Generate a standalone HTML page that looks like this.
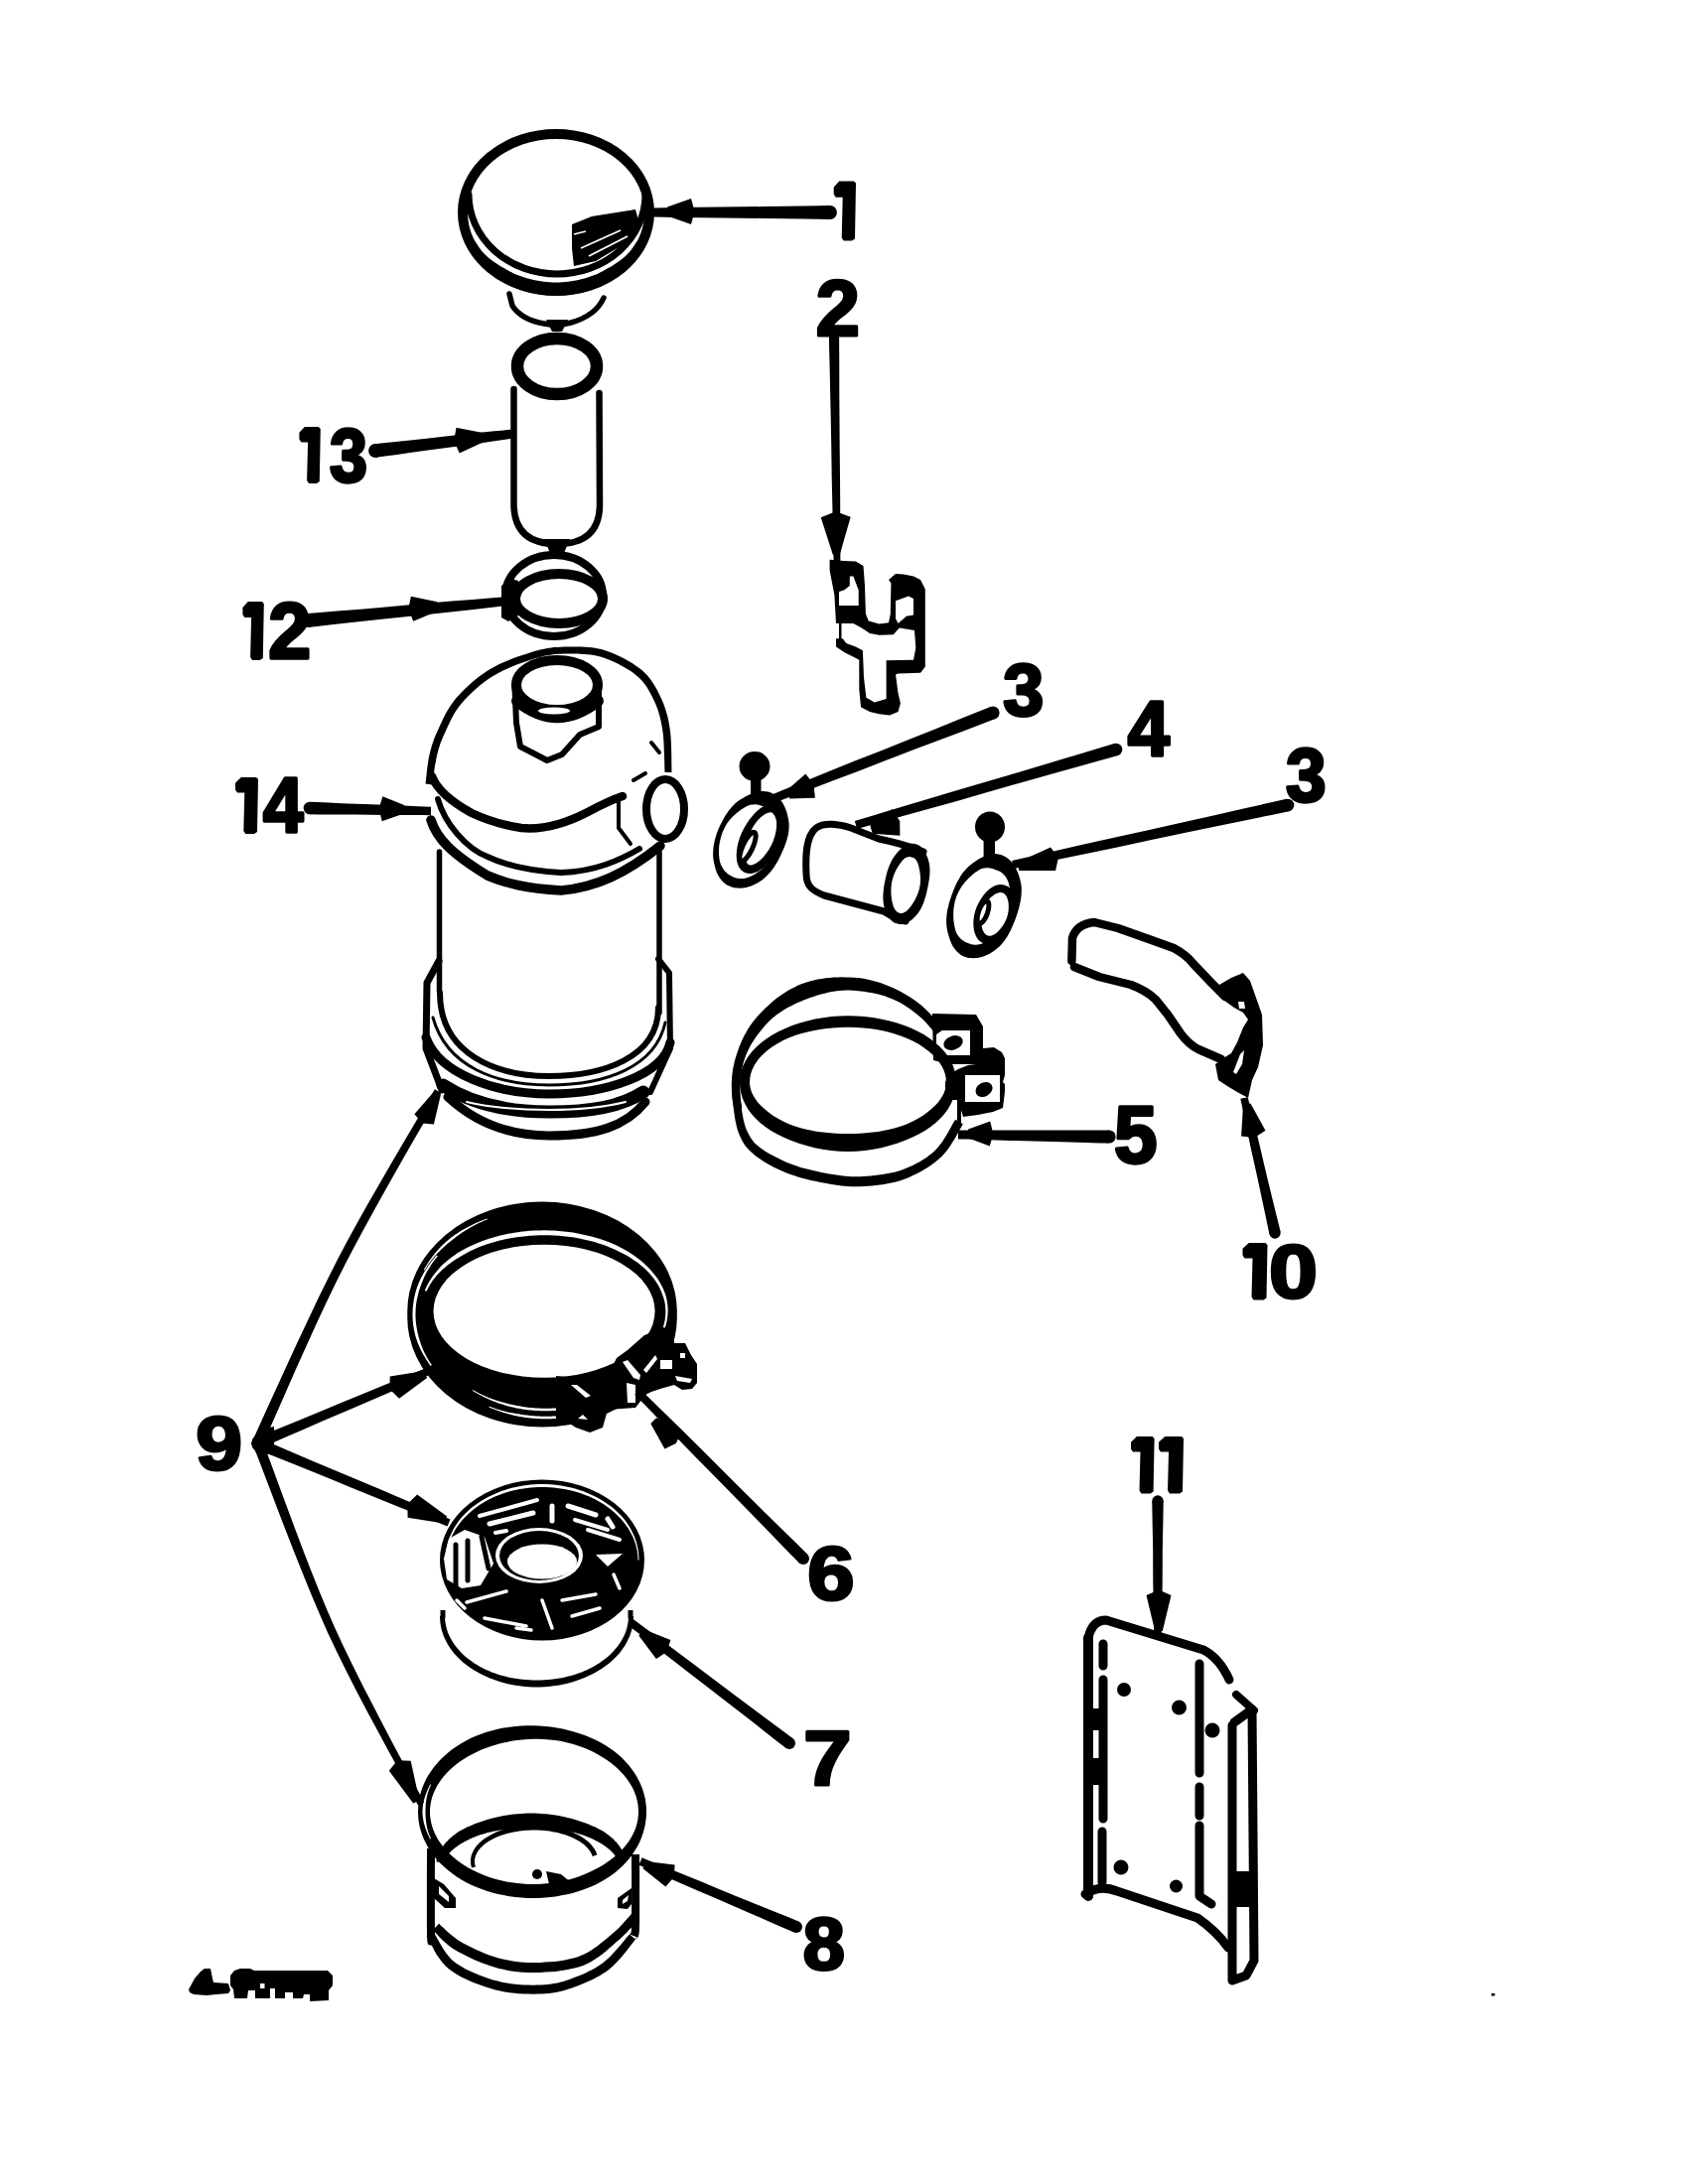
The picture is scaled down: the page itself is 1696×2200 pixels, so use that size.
<!DOCTYPE html>
<html><head><meta charset="utf-8"><style>
html,body{margin:0;padding:0;background:#fff;}
svg{display:block;}
text{font-family:"Liberation Sans",sans-serif;font-weight:bold;fill:#000;}
.s{fill:none;stroke:#000;stroke-linecap:round;stroke-linejoin:round;}
.f{fill:#000;stroke:none;}
.w{fill:#fff;stroke:none;}
.ws{fill:none;stroke:#fff;stroke-linecap:round;stroke-linejoin:round;}
</style></head><body>
<svg width="1696" height="2200" viewBox="0 0 1696 2200">
<rect width="1696" height="2200" fill="#fff"/>
<!-- ===== Cap 1 ===== -->
<g class="s">
<ellipse cx="560" cy="214" rx="94" ry="79" stroke-width="10"/>
<path d="M472,196 A89,80 0 0 0 650,196" stroke-width="7"/>

<path d="M513,296 L516,308 Q525,322 548,326 L561,328 L575,325 Q600,318 608,300" stroke-width="5.5"/>
</g>
<path class="f" d="M576,226 L596,218 L640,211 L643,222 L630,245 L600,263 L578,268 L576,250 Z"/>
<g fill="none" stroke="#fff" stroke-width="1.8"><path d="M585,250 L625,232"/><path d="M593,258 L632,238"/><path d="M578,236 L590,233"/></g>
<!-- arrow 1 -->

<!-- arrow 2 -->

<!-- Part 2 -->
<path class="f" fill-rule="evenodd" d="M835.6,574.4 L835.6,563.8 L850,565 L861.8,565.5 L869.5,570 L871,590 L871.9,618.4 L874.8,625.5 L885.5,628.5 L895,627.3 L896.8,618.4 L897.4,587.5 L895,584 L902,578 L909.9,578.6 L920,580.4 L927,584 L931.8,593.4 L931.8,671.8 L927,677.8 L904.5,678.4 L902,679.5 L904.5,698 L906.9,708.6 L904.5,717 L896,720.5 L885.5,719.3 L876,717 L867,712.2 L865.3,694.4 L865.3,664.7 L860.6,662.3 L851,657.6 L842,651.6 L842,643.3 L845,643.3 L845,628 L842,628 L840.4,599.4 Z
M845,596 L850,594.6 L855.8,590 L855.8,580.4 L859.4,580.4 L864.7,594.6 L864.7,610 L845,610 Z
M902,605.3 L915,600.6 L920,603 L920,619.6 L912.8,620.8 L904.5,627.9 L902,623 Z
M847.5,627.9 L859.4,627.9 L867.7,632.6 L876,638 L885.5,639.8 L899.8,639.2 L905.7,632.6 L921,635 L922.3,652.8 L920,664.7 L892.6,665.3 L892.6,703.9 L880.8,707.5 L872.4,702.7 L870,682.5 L868.9,655.2 L861.8,651.6 L852.3,648 L848.7,643.3 L847.5,643.3 Z"/>
<!-- ===== Tube 13 ===== -->
<path class="f" d="M550,322 L572,322 L566,334 L556,334 Z"/>
<path class="f" d="M548,543 L574,543 L568,557 L554,557 Z"/>
<g class="s">
<ellipse cx="561" cy="369" rx="40" ry="28" stroke-width="12.5"/>
<path d="M517.5,392 L517.5,510 Q519,548 561,548 Q603,548 604,510 L603.5,396" stroke-width="6.5"/>

</g>

<!-- ===== Ring 12 ===== -->
<g class="s">
<ellipse cx="558" cy="600" rx="49" ry="41" stroke-width="8"/>
<ellipse cx="563" cy="603" rx="44" ry="25" stroke-width="10"/>


</g>

<path class="f" d="M505,590 L515,583 L522,585 L522,620 L512,626 L505,622 Z"/>
<!-- ===== Body 14 ===== -->
<g class="s">

<!-- inlet neck -->
<ellipse cx="561" cy="690" rx="41" ry="25" stroke-width="10"/>
<path d="M521,706 Q561,738 602,706" stroke-width="12"/>
<ellipse cx="558" cy="716" rx="16" ry="3.5" fill="#fff" stroke="none"/>
<path d="M656,748 L664,758 M638,786 L650,779" stroke-width="4"/>
<path d="M518.5,692 L520,728 L524,752 L551,766 L566,760 L584,740 L603,732 L603,692" stroke-width="6"/>
<!-- band -->
<path d="M435,782 C440,795 455,808 475,819 C490,826 505,831 525,834 C545,836 565,832 592,818 C605,811 615,806 627,802" stroke-width="8.5"/>
<path d="M441,805 C448,830 470,855 491,863 C510,872 533,877 565,879 C600,878 625,866 644,855" stroke-width="6"/>
<path d="M434,826 C440,845 455,860 491,882 C510,890 530,895 565,897 C600,894 630,880 665,852" stroke-width="9.5"/>
<!-- port -->
<ellipse cx="670" cy="815" rx="19" ry="30" stroke-width="8"/>
<path d="M623,802 L623,834 L635,850" stroke-width="4"/>
<!-- body sides -->
<line x1="442.5" y1="858" x2="442.5" y2="998" stroke-width="5.5"/>
<line x1="664" y1="858" x2="664" y2="1020" stroke-width="5.5"/>
<path d="M442,968 L430,990 L429,1056 L445,1098" stroke-width="7"/>
<path d="M663,966 L674,980 L675,1056 L655,1100" stroke-width="6"/>
<!-- bottom arcs -->
<path d="M443,1000 C443,1062 500,1084 553,1084 C606,1084 663,1066 663,1015" stroke-width="6"/>
<path d="M436,1025 C450,1075 500,1093 553,1093 C610,1093 660,1075 670,1030" stroke-width="3"/>
<path d="M429,1045 C442,1082 500,1102 553,1102 C610,1102 668,1083 675,1050" stroke-width="9"/>
<path d="M446,1093 C475,1112 510,1120 553,1120 C595,1120 625,1115 648,1100" stroke-width="13"/>
<path d="M470,1110 C500,1117 530,1118 553,1118 C580,1118 610,1115 630,1110" stroke="#fff" stroke-width="2"/>
<path d="M451,1105 C480,1132 515,1144 553,1144 C600,1144 630,1135 650,1110" stroke-width="9"/>

</g>

<!-- ===== Elbow 10 ===== -->
<g class="s">
<path d="M1079.4,968 L1080,945 Q1084,931 1102,929 L1126,935 L1157,946 L1182,955 Q1195,962 1201,970 L1220,990 L1234,1004" stroke-width="8.5"/>
<path d="M1082,974 L1107,984 L1139,992 Q1155,998 1164,1007 L1176,1022 L1189,1041 Q1197,1052 1207,1057 L1230,1067" stroke-width="8.5"/>
</g>
<path class="f" d="M1228,992 L1240,985 L1252,980 L1259,988 L1265,1005 L1271,1022 L1272,1053 L1267,1075 L1261,1088 L1257,1106 L1246,1100 L1236,1094 L1227,1088 L1224,1072 L1232,1066 L1240,1061 L1246,1050 L1252,1035 L1257,1027 L1252,1020 L1243,1015 L1236,1010 L1228,1004 Z"/>
<path class="w" d="M1247,1009 L1253,1009 L1254,1016 L1248,1016 Z"/>
<path class="w" d="M1242,1080 L1249,1062 L1253,1058 L1251,1072 L1245,1082 Z"/>
<path class="f" fill-rule="evenodd" d="M939,1021 L983,1022 L990,1034 L990,1056 L1001,1055 L1009,1060 L1012,1066 L1012,1083 L1010,1090 L1012,1092 L1012,1100 L1010,1116 L1000,1120 L985,1123 L970,1125 L967,1115 L967,1108 L952,1108 L952,1090 L955,1083 L965,1077 L975,1073 L983,1072 L968,1072 L955,1072 L940,1068 Z
M943,1038 L977,1038 L977,1063 L943,1063 Z
M972,1083 L1007,1083 L1007,1110 L972,1110 Z"/>
<ellipse class="f" cx="960" cy="1050.5" rx="10" ry="7" transform="rotate(-20 960 1050.5)"/>
<ellipse class="f" cx="991" cy="1097.5" rx="9" ry="7" transform="rotate(-30 991 1097.5)"/>
<!-- ===== Bracket 11 ===== -->
<g class="s">

<path d="M1096,1650 Q1100,1632 1114,1632 L1212,1662 Q1228,1670 1238,1692" stroke-width="9"/>
<line x1="1245" y1="1707" x2="1263" y2="1723" stroke-width="8"/>
<line x1="1096" y1="1650" x2="1096" y2="1910" stroke-width="10"/>
<path d="M1093,1908 Q1108,1898 1125,1905 L1206,1932 Q1225,1945 1237,1962" stroke-width="9"/>
<path d="M1111,1656 L1111,1678 M1111,1692 L1111,1832 M1110,1845 L1110,1896" stroke-width="9"/>
<path d="M1208,1676 L1208,1786 M1208,1800 L1208,1829 M1208,1839 L1208,1910 L1220,1918" stroke-width="9"/>
<path d="M1241,1738 L1241,1995 L1255,1990 L1263,1975 L1261,1722 L1243,1735" stroke-width="9"/>
</g>

<rect class="f" x="1238" y="1885" width="22" height="36"/>
<rect class="f" x="1092" y="1721" width="21" height="22"/>
<rect class="f" x="1092" y="1771" width="21" height="27"/>
<circle class="f" cx="1132" cy="1702" r="7"/>
<circle class="f" cx="1187.5" cy="1720" r="7.5"/>
<circle class="f" cx="1221" cy="1743" r="7.5"/>
<circle class="f" cx="1129" cy="1881" r="7.5"/>
<circle class="f" cx="1184.5" cy="1900" r="6.5"/>
<!-- misc -->
<rect class="f" x="1502" y="2008" width="3.5" height="2.5"/>
<!-- A-90192 -->
<path class="f" d="M190,2004 L196,1993 L202,1986 L206,1983 L212,1983 L214,1993 L215,1997 L230,1998 L232,2005 L230,2008 L218,2009 L208,2010 L195,2009 L191,2007 Z"/>
<path class="f" d="M232,1990 L236,1985 L242,1983 L252,1983 L256,1985 L330,1985 L335,1990 L335,2000 L331,2005 L331,2015 L312,2016 L312,2009 L306,2009 L305,2013 L295,2013 L295,2007 L287,2007 L287,2013 L277,2013 L277,2003 L272,2003 L272,2013 L257,2013 L257,2005 L250,2005 L249,2013 L236,2013 L235,2004 L232,2000 Z"/>
<rect class="w" x="262" y="1998" width="4.5" height="5"/>

<path class="f" d="M650.1,223.7 L649.6,226.4 L648.8,229.1 L647.8,231.7 L646.7,234.2 L645.5,236.7 L644.1,239.1 L642.7,241.5 L641.2,243.8 L639.6,246.1 L638.0,248.4 L636.4,250.7 L634.7,252.9 L632.9,255.1 L630.9,257.1 L628.8,259.0 L626.6,260.8 L624.3,262.6 L621.9,264.2 L619.5,265.8 L617.0,267.4 L614.5,268.9 L612.0,270.3 L609.5,271.8 L607.0,273.3 L604.3,274.6 L601.6,275.9 L598.9,277.1 L596.0,278.1 L593.2,279.1 L590.3,280.0 L587.4,280.8 L584.4,281.6 L581.4,282.2 L578.4,282.8 L575.4,283.3 L572.3,283.8 L569.3,284.1 L566.2,284.3 L563.1,284.5 L560.0,284.5 L556.9,284.5 L553.8,284.3 L550.7,284.1 L547.7,283.8 L544.6,283.3 L541.6,282.8 L538.6,282.2 L535.6,281.6 L532.6,280.8 L529.7,280.0 L526.8,279.1 L524.0,278.1 L521.1,277.1 L518.4,275.9 L515.7,274.6 L513.0,273.3 L510.5,271.8 L508.0,270.3 L505.5,268.9 L503.0,267.4 L500.5,265.8 L498.1,264.2 L495.7,262.6 L493.4,260.8 L491.2,259.0 L489.1,257.1 L487.1,255.1 L485.3,252.9 L483.6,250.7 L482.0,248.4 L480.4,246.1 L478.8,243.8 L477.3,241.5 L475.9,239.1 L474.5,236.7 L473.3,234.2 L472.2,231.7 L471.2,229.1 L470.4,226.4 L469.9,223.7 L467.9,224.0 L468.4,226.8 L468.9,229.6 L469.4,232.5 L470.0,235.3 L470.7,238.2 L471.6,241.0 L472.5,243.8 L473.6,246.6 L474.9,249.4 L476.3,252.0 L477.9,254.6 L479.7,257.1 L481.5,259.6 L483.4,262.1 L485.3,264.6 L487.3,267.1 L489.4,269.5 L491.6,271.9 L493.9,274.2 L496.3,276.4 L498.9,278.5 L501.6,280.4 L504.4,282.2 L507.3,283.8 L510.2,285.4 L513.3,286.9 L516.3,288.4 L519.5,289.7 L522.6,291.0 L525.9,292.1 L529.1,293.1 L532.5,294.1 L535.8,294.9 L539.2,295.6 L542.6,296.2 L546.1,296.7 L549.6,297.0 L553.0,297.3 L556.5,297.4 L560.0,297.5 L563.5,297.4 L567.0,297.3 L570.4,297.0 L573.9,296.7 L577.4,296.2 L580.8,295.6 L584.2,294.9 L587.5,294.1 L590.9,293.1 L594.1,292.1 L597.4,291.0 L600.5,289.7 L603.7,288.4 L606.7,286.9 L609.8,285.4 L612.7,283.8 L615.6,282.2 L618.4,280.4 L621.1,278.5 L623.7,276.4 L626.1,274.2 L628.4,271.9 L630.6,269.5 L632.7,267.1 L634.7,264.6 L636.6,262.1 L638.5,259.6 L640.3,257.1 L642.1,254.6 L643.7,252.0 L645.1,249.4 L646.4,246.6 L647.5,243.8 L648.4,241.0 L649.3,238.2 L650.0,235.3 L650.6,232.5 L651.1,229.6 L651.6,226.8 L652.1,224.0 Z"/>
<path class="f" d="M435.5,790.5 L435.7,788.7 L436.0,786.5 L436.3,783.9 L436.7,781.0 L437.1,778.0 L437.5,774.7 L438.0,771.5 L438.6,768.4 L439.1,765.5 L439.7,762.8 L440.2,760.4 L440.8,758.0 L441.4,755.7 L442.0,753.6 L442.7,751.4 L443.4,749.2 L444.2,747.0 L445.2,744.7 L446.2,742.2 L447.4,739.6 L448.7,736.7 L450.1,733.6 L451.6,730.5 L453.1,727.3 L454.7,724.0 L456.4,720.8 L458.3,717.6 L460.3,714.4 L462.5,711.4 L464.9,708.4 L467.5,705.4 L470.3,702.4 L473.3,699.4 L476.5,696.4 L479.8,693.5 L483.2,690.6 L486.8,687.8 L490.4,685.1 L494.1,682.6 L497.9,680.2 L501.9,678.0 L506.1,675.8 L510.5,673.7 L515.1,671.7 L519.8,669.8 L524.5,668.0 L529.1,666.4 L533.6,664.9 L537.9,663.5 L541.9,662.4 L545.7,661.4 L549.2,660.6 L552.6,660.0 L555.9,659.5 L559.0,659.1 L562.2,658.8 L565.3,658.7 L568.5,658.6 L571.7,658.5 L575.0,658.5 L578.4,658.5 L581.7,658.6 L585.0,658.7 L588.3,658.9 L591.6,659.2 L594.9,659.6 L598.1,660.1 L601.3,660.7 L604.6,661.6 L607.8,662.6 L611.2,663.8 L614.8,665.2 L618.4,666.8 L622.1,668.5 L625.7,670.4 L629.3,672.4 L632.7,674.5 L636.0,676.6 L638.9,678.7 L641.6,680.9 L643.9,683.0 L646.1,685.2 L648.0,687.5 L649.8,689.8 L651.5,692.3 L653.0,694.8 L654.5,697.4 L655.9,700.1 L657.3,702.8 L658.6,705.6 L659.9,708.3 L661.0,711.1 L662.1,713.8 L663.0,716.6 L663.9,719.5 L664.7,722.4 L665.4,725.5 L666.1,728.7 L666.7,732.0 L667.3,735.5 L667.8,739.4 L668.2,743.8 L668.5,748.6 L668.7,753.5 L668.9,758.5 L669.1,763.4 L669.2,767.9 L669.3,772.0 L669.4,775.5 L669.5,778.1 L676.5,777.9 L676.4,775.3 L676.4,771.9 L676.3,767.8 L676.3,763.2 L676.2,758.3 L676.1,753.3 L675.9,748.2 L675.6,743.2 L675.2,738.6 L674.7,734.5 L674.1,730.8 L673.5,727.2 L672.8,723.8 L672.0,720.6 L671.1,717.4 L670.1,714.3 L669.1,711.3 L668.0,708.3 L666.7,705.3 L665.4,702.4 L664.0,699.5 L662.6,696.7 L661.1,693.8 L659.5,691.0 L657.8,688.2 L655.9,685.5 L653.9,682.8 L651.6,680.1 L649.1,677.6 L646.4,675.1 L643.4,672.8 L640.2,670.4 L636.7,668.1 L633.1,665.9 L629.3,663.8 L625.4,661.8 L621.5,660.0 L617.7,658.3 L613.9,656.8 L610.2,655.4 L606.6,654.3 L602.9,653.5 L599.4,652.8 L595.8,652.3 L592.3,652.0 L588.8,651.7 L585.3,651.6 L581.9,651.5 L578.4,651.5 L575.0,651.5 L571.6,651.5 L568.3,651.6 L565.0,651.7 L561.7,651.9 L558.3,652.1 L554.9,652.5 L551.4,653.1 L547.8,653.7 L544.0,654.6 L540.1,655.6 L535.9,656.8 L531.5,658.2 L526.8,659.7 L522.0,661.3 L517.2,663.1 L512.3,665.0 L507.5,667.0 L502.8,669.1 L498.3,671.4 L494.1,673.8 L490.0,676.3 L486.1,679.0 L482.2,681.8 L478.5,684.8 L474.9,687.8 L471.4,690.9 L468.1,694.1 L464.9,697.2 L461.9,700.4 L459.1,703.6 L456.5,706.9 L454.1,710.2 L451.9,713.7 L449.9,717.1 L448.0,720.6 L446.3,724.0 L444.8,727.3 L443.3,730.5 L441.9,733.6 L440.6,736.4 L439.3,739.2 L438.2,741.8 L437.2,744.3 L436.4,746.7 L435.6,749.1 L434.8,751.4 L434.2,753.8 L433.5,756.1 L432.9,758.6 L432.3,761.2 L431.7,764.1 L431.2,767.2 L430.7,770.4 L430.3,773.8 L429.9,777.0 L429.6,780.2 L429.2,783.1 L429.0,785.7 L428.7,787.9 L428.5,789.5 Z"/>
<ellipse class="f" cx="760" cy="772" rx="15.5" ry="15"/><rect class="f" x="756" y="782" width="10.5" height="20"/>
<path class="f" d="M780.0,858.6 L778.9,860.6 L777.9,862.6 L776.7,864.5 L775.5,866.3 L774.2,868.0 L772.8,869.7 L771.4,871.3 L769.9,872.8 L768.4,874.3 L766.9,875.7 L765.4,876.9 L763.8,878.1 L762.3,879.2 L760.7,880.3 L759.1,881.2 L757.6,882.1 L756.0,882.8 L754.5,883.5 L752.9,884.0 L751.4,884.4 L749.9,884.7 L748.4,884.9 L747.0,885.0 L745.6,885.0 L744.2,884.9 L742.9,884.8 L741.6,884.5 L740.4,884.2 L739.2,883.7 L738.1,883.3 L737.0,882.7 L735.9,882.1 L734.8,881.5 L733.7,880.7 L732.6,879.9 L731.5,879.0 L730.5,878.0 L729.5,876.9 L728.6,875.6 L727.7,874.3 L726.9,872.8 L726.1,871.3 L725.5,869.6 L725.0,867.9 L724.6,866.1 L724.4,864.2 L724.2,862.3 L724.0,860.3 L724.0,858.3 L724.0,856.2 L724.1,854.1 L724.3,852.0 L724.6,849.9 L725.0,847.7 L725.5,845.6 L726.0,843.4 L726.7,841.3 L727.4,839.1 L728.3,837.0 L729.2,835.0 L730.2,832.9 L731.3,831.0 L732.5,829.1 L733.9,827.3 L735.2,825.5 L736.7,823.9 L738.2,822.3 L739.7,820.9 L741.3,819.5 L742.9,818.2 L744.5,816.9 L746.1,815.8 L747.7,814.7 L749.3,813.7 L750.9,812.8 L752.4,812.0 L754.0,811.3 L755.7,810.8 L757.3,810.5 L758.8,810.4 L760.3,810.3 L761.8,810.4 L763.1,810.6 L764.4,810.9 L765.6,811.3 L766.8,811.7 L767.8,812.1 L768.8,812.6 L769.7,813.0 L770.6,813.5 L771.6,813.9 L772.5,814.4 L773.4,814.9 L774.3,815.5 L775.2,816.2 L776.2,816.9 L777.1,817.8 L778.0,818.7 L778.8,819.8 L779.6,821.0 L780.4,822.3 L781.0,823.7 L781.6,825.2 L782.0,826.8 L782.4,828.4 L782.7,830.2 L782.9,831.9 L783.2,833.8 L783.4,835.7 L783.5,837.6 L783.6,839.7 L783.6,841.7 L783.5,843.8 L783.3,845.9 L783.0,848.1 L782.7,850.2 L782.2,852.3 L781.5,854.5 L780.8,856.6 L779.9,858.7 L786.3,861.5 L787.3,859.3 L788.3,857.1 L789.3,854.8 L790.2,852.5 L791.1,850.1 L791.9,847.8 L792.6,845.4 L793.2,843.1 L793.8,840.7 L794.2,838.3 L794.5,835.9 L794.6,833.5 L794.7,831.1 L794.5,828.7 L794.2,826.4 L793.8,824.2 L793.3,821.9 L792.8,819.7 L792.2,817.6 L791.4,815.5 L790.6,813.4 L789.6,811.4 L788.6,809.5 L787.4,807.6 L786.0,805.8 L784.6,804.2 L783.0,802.6 L781.2,801.2 L779.4,800.0 L777.4,799.0 L775.3,798.1 L773.2,797.6 L771.0,797.2 L768.8,797.1 L766.6,797.1 L764.4,797.4 L762.2,797.8 L760.1,798.4 L758.0,799.1 L756.0,799.9 L754.0,800.8 L752.1,801.8 L750.2,802.8 L748.2,803.9 L746.3,805.0 L744.4,806.2 L742.6,807.6 L740.8,809.1 L739.1,810.7 L737.4,812.4 L735.9,814.2 L734.4,816.0 L733.0,818.0 L731.6,820.0 L730.3,822.0 L729.1,824.1 L727.9,826.3 L726.8,828.4 L725.7,830.6 L724.6,832.8 L723.6,835.1 L722.7,837.3 L721.9,839.6 L721.1,841.9 L720.4,844.2 L719.8,846.6 L719.3,848.9 L718.8,851.2 L718.5,853.6 L718.3,855.9 L718.2,858.2 L718.1,860.5 L718.2,862.7 L718.4,864.9 L718.7,867.1 L719.1,869.2 L719.6,871.3 L720.1,873.3 L720.6,875.3 L721.3,877.3 L722.0,879.2 L722.9,881.0 L723.9,882.8 L724.9,884.5 L726.1,886.1 L727.4,887.6 L728.9,889.0 L730.4,890.3 L732.1,891.4 L733.9,892.3 L735.7,893.1 L737.6,893.7 L739.6,894.2 L741.6,894.5 L743.6,894.6 L745.6,894.7 L747.7,894.5 L749.7,894.3 L751.7,893.9 L753.8,893.3 L755.8,892.7 L757.8,891.9 L759.8,891.1 L761.8,890.1 L763.7,889.0 L765.6,887.8 L767.5,886.5 L769.3,885.0 L771.0,883.5 L772.7,881.8 L774.4,880.1 L775.9,878.3 L777.4,876.4 L778.9,874.4 L780.3,872.4 L781.6,870.3 L782.9,868.2 L784.1,866.0 L785.2,863.8 L786.2,861.6 Z"/>
<path class="f" d="M777.4,850.2 L776.5,852.0 L775.5,853.8 L774.6,855.5 L773.5,857.1 L772.5,858.6 L771.4,860.1 L770.2,861.6 L769.1,862.9 L767.9,864.2 L766.8,865.3 L765.6,866.4 L764.4,867.4 L763.3,868.3 L762.2,869.1 L761.2,869.7 L760.1,870.3 L759.1,870.8 L758.2,871.1 L757.4,871.3 L756.6,871.4 L755.9,871.4 L755.3,871.4 L754.8,871.3 L754.3,871.1 L753.9,870.9 L753.6,870.7 L753.2,870.4 L752.8,870.0 L752.5,869.6 L752.1,869.0 L751.7,868.4 L751.3,867.6 L751.0,866.7 L750.7,865.7 L750.4,864.6 L750.2,863.3 L750.1,862.0 L750.0,860.6 L750.0,859.1 L750.1,857.5 L750.3,855.9 L750.5,854.2 L750.9,852.5 L751.3,850.7 L751.7,848.9 L752.2,847.1 L752.8,845.3 L753.4,843.5 L754.1,841.6 L754.9,839.8 L755.7,838.0 L756.6,836.3 L757.5,834.6 L758.4,832.9 L759.4,831.3 L760.5,829.8 L761.6,828.3 L762.7,826.9 L763.8,825.6 L765.0,824.4 L766.2,823.3 L767.3,822.4 L768.5,821.5 L769.6,820.7 L770.7,820.1 L771.8,819.5 L772.8,819.1 L773.7,818.8 L774.6,818.5 L775.4,818.4 L776.1,818.3 L776.7,818.3 L777.3,818.4 L777.8,818.5 L778.3,818.7 L778.7,819.0 L779.1,819.3 L779.5,819.6 L779.9,820.1 L780.3,820.7 L780.7,821.4 L781.1,822.2 L781.4,823.2 L781.6,824.2 L781.9,825.4 L782.0,826.6 L782.1,828.0 L782.2,829.4 L782.1,830.9 L782.1,832.5 L781.9,834.2 L781.7,835.9 L781.4,837.6 L781.0,839.4 L780.6,841.2 L780.1,843.0 L779.5,844.8 L778.9,846.7 L778.1,848.5 L777.3,850.3 L783.7,853.2 L784.6,851.3 L785.4,849.3 L786.2,847.2 L786.9,845.2 L787.6,843.2 L788.2,841.2 L788.7,839.2 L789.2,837.2 L789.5,835.2 L789.8,833.3 L790.0,831.4 L790.1,829.5 L790.1,827.7 L790.0,825.9 L789.8,824.2 L789.5,822.5 L789.0,820.9 L788.5,819.4 L787.9,817.9 L787.2,816.6 L786.3,815.3 L785.3,814.1 L784.2,813.1 L783.0,812.2 L781.6,811.5 L780.2,810.9 L778.7,810.5 L777.2,810.4 L775.7,810.4 L774.2,810.5 L772.7,810.9 L771.2,811.3 L769.7,812.0 L768.2,812.7 L766.8,813.6 L765.4,814.6 L764.0,815.7 L762.6,816.8 L761.3,818.1 L759.9,819.5 L758.6,820.9 L757.3,822.4 L756.1,824.0 L754.8,825.6 L753.6,827.4 L752.4,829.1 L751.3,830.9 L750.2,832.8 L749.1,834.7 L748.1,836.7 L747.2,838.6 L746.3,840.6 L745.5,842.6 L744.7,844.7 L744.1,846.7 L743.5,848.7 L743.0,850.8 L742.6,852.8 L742.3,854.8 L742.0,856.7 L741.9,858.6 L741.7,860.5 L741.7,862.3 L741.8,864.1 L742.0,865.9 L742.2,867.6 L742.6,869.2 L743.1,870.8 L743.7,872.3 L744.4,873.7 L745.3,875.0 L746.3,876.2 L747.5,877.3 L748.8,878.2 L750.2,878.9 L751.7,879.4 L753.2,879.8 L754.8,879.9 L756.3,879.9 L757.9,879.7 L759.4,879.3 L760.9,878.8 L762.4,878.2 L763.9,877.4 L765.3,876.6 L766.8,875.6 L768.2,874.6 L769.6,873.4 L771.0,872.1 L772.3,870.8 L773.6,869.3 L774.9,867.8 L776.1,866.1 L777.3,864.5 L778.5,862.7 L779.6,860.9 L780.7,859.0 L781.7,857.1 L782.7,855.2 L783.7,853.3 Z"/>
<ellipse cx="753" cy="853" rx="5" ry="16" transform="rotate(25 753 853)" fill="#fff" stroke="#000" stroke-width="5"/>
<path class="s" d="M930,858 C915,852 900,848 885,845 L857,834 C845,830 830,828 822,834 C812,842 811,860 812,880 C812,893 818,897 830,902 L890,918 C898,923 905,927 912,928" stroke-width="7"/>
<path class="f" d="M926.2,893.8 L925.7,895.9 L925.1,897.9 L924.5,899.8 L923.7,901.7 L922.9,903.5 L922.1,905.3 L921.2,907.0 L920.3,908.6 L919.3,910.1 L918.3,911.5 L917.4,912.9 L916.4,914.1 L915.5,915.3 L914.5,916.3 L913.5,917.2 L912.6,917.9 L911.7,918.6 L910.8,919.1 L909.9,919.5 L909.2,919.7 L908.5,919.9 L907.9,920.0 L907.3,920.0 L906.8,919.9 L906.4,919.9 L905.9,919.7 L905.4,919.6 L904.9,919.4 L904.3,919.1 L903.7,918.7 L903.1,918.2 L902.4,917.5 L901.7,916.7 L901.1,915.8 L900.5,914.7 L899.9,913.5 L899.5,912.1 L899.0,910.6 L898.7,909.1 L898.3,907.4 L898.0,905.7 L897.8,903.9 L897.6,902.1 L897.4,900.2 L897.4,898.2 L897.4,896.2 L897.5,894.1 L897.7,892.1 L897.9,890.0 L898.3,888.0 L898.8,886.0 L899.4,884.0 L900.0,882.0 L900.8,880.1 L901.6,878.3 L902.4,876.5 L903.4,874.8 L904.3,873.2 L905.3,871.7 L906.2,870.2 L907.2,868.9 L908.2,867.6 L909.2,866.4 L910.2,865.4 L911.3,864.6 L912.3,864.0 L913.4,863.5 L914.4,863.2 L915.3,863.0 L916.1,863.0 L916.8,863.1 L917.3,863.2 L917.7,863.4 L918.0,863.5 L918.3,863.6 L918.6,863.7 L918.9,863.7 L919.3,863.8 L919.8,864.0 L920.3,864.2 L921.0,864.6 L921.6,865.2 L922.3,865.9 L922.9,866.7 L923.5,867.7 L924.1,868.9 L924.6,870.2 L925.0,871.6 L925.4,873.1 L925.7,874.7 L926.1,876.4 L926.4,878.1 L926.6,879.9 L926.8,881.8 L927.0,883.8 L927.0,885.8 L927.0,887.8 L926.8,889.8 L926.6,891.9 L926.2,894.0 L934.0,895.5 L934.5,893.3 L934.9,891.0 L935.3,888.7 L935.7,886.5 L936.0,884.2 L936.3,881.9 L936.4,879.7 L936.5,877.5 L936.4,875.3 L936.3,873.1 L936.0,871.0 L935.7,869.0 L935.1,867.0 L934.6,865.1 L933.9,863.3 L933.2,861.5 L932.4,859.7 L931.6,858.1 L930.5,856.5 L929.4,855.0 L928.1,853.6 L926.6,852.3 L924.9,851.3 L923.1,850.5 L921.2,849.9 L919.3,849.7 L917.3,849.7 L915.4,850.1 L913.6,850.7 L911.9,851.5 L910.3,852.5 L908.8,853.7 L907.4,854.9 L906.1,856.2 L904.8,857.6 L903.6,859.0 L902.3,860.5 L901.1,862.1 L899.9,863.7 L898.8,865.5 L897.8,867.3 L896.9,869.3 L896.0,871.3 L895.2,873.3 L894.4,875.5 L893.7,877.6 L893.1,879.8 L892.5,882.0 L892.0,884.3 L891.5,886.5 L891.0,888.8 L890.6,891.1 L890.2,893.3 L889.9,895.6 L889.7,897.9 L889.5,900.1 L889.4,902.3 L889.4,904.5 L889.5,906.6 L889.6,908.7 L889.9,910.8 L890.3,912.8 L890.8,914.7 L891.4,916.5 L892.0,918.3 L892.7,920.0 L893.5,921.7 L894.4,923.2 L895.4,924.7 L896.5,926.1 L897.8,927.3 L899.2,928.5 L900.7,929.4 L902.3,930.1 L904.1,930.6 L905.9,930.9 L907.7,930.9 L909.4,930.7 L911.2,930.3 L912.9,929.7 L914.5,929.0 L916.1,928.1 L917.6,927.0 L919.0,925.9 L920.4,924.6 L921.7,923.2 L923.0,921.8 L924.3,920.2 L925.5,918.6 L926.6,916.8 L927.6,914.9 L928.6,913.0 L929.5,910.9 L930.3,908.9 L931.0,906.7 L931.7,904.6 L932.4,902.3 L933.0,900.1 L933.5,897.8 L934.0,895.6 Z"/>
<ellipse class="f" cx="997" cy="833" rx="15" ry="15.5"/><rect class="f" x="990.6" y="844" width="11.4" height="22"/>
<path class="f" d="M1015.4,922.2 L1014.5,924.4 L1013.5,926.5 L1012.5,928.5 L1011.3,930.5 L1010.1,932.4 L1008.8,934.2 L1007.4,936.0 L1006.0,937.6 L1004.5,939.2 L1003.0,940.7 L1001.6,942.1 L1000.1,943.4 L998.6,944.6 L997.1,945.8 L995.7,946.9 L994.2,947.9 L992.7,948.8 L991.3,949.6 L989.8,950.2 L988.4,950.7 L987.0,951.1 L985.6,951.4 L984.3,951.6 L983.0,951.7 L981.8,951.7 L980.6,951.6 L979.5,951.4 L978.4,951.2 L977.3,950.9 L976.3,950.6 L975.3,950.2 L974.3,949.8 L973.3,949.4 L972.2,948.9 L971.1,948.3 L970.0,947.6 L968.9,946.8 L967.8,945.9 L966.7,944.8 L965.7,943.6 L964.7,942.3 L963.9,940.9 L963.1,939.3 L962.4,937.6 L961.9,935.8 L961.5,933.9 L961.1,932.0 L960.8,930.0 L960.5,928.0 L960.3,925.8 L960.2,923.7 L960.2,921.5 L960.2,919.2 L960.3,917.0 L960.5,914.7 L960.9,912.4 L961.3,910.1 L961.8,907.8 L962.5,905.5 L963.2,903.3 L964.1,901.0 L965.1,898.9 L966.2,896.8 L967.4,894.8 L968.6,892.8 L970.0,891.0 L971.4,889.2 L972.8,887.5 L974.3,885.9 L975.8,884.3 L977.3,882.9 L978.9,881.5 L980.4,880.2 L981.9,879.0 L983.5,877.9 L985.0,876.9 L986.6,876.0 L988.1,875.3 L989.7,874.8 L991.3,874.5 L992.8,874.3 L994.3,874.2 L995.7,874.3 L997.0,874.4 L998.2,874.7 L999.4,875.0 L1000.5,875.3 L1001.5,875.7 L1002.4,876.0 L1003.3,876.4 L1004.3,876.7 L1005.2,877.1 L1006.1,877.5 L1007.1,878.0 L1008.1,878.6 L1009.0,879.3 L1010.0,880.1 L1010.9,881.0 L1011.9,882.0 L1012.8,883.2 L1013.6,884.5 L1014.4,885.9 L1015.1,887.4 L1015.7,889.0 L1016.1,890.7 L1016.5,892.4 L1016.9,894.3 L1017.3,896.2 L1017.5,898.2 L1017.8,900.2 L1018.0,902.3 L1018.1,904.4 L1018.1,906.6 L1018.0,908.8 L1017.8,911.0 L1017.6,913.3 L1017.2,915.5 L1016.7,917.8 L1016.1,920.0 L1015.3,922.3 L1022.9,924.9 L1023.8,922.5 L1024.6,920.1 L1025.4,917.6 L1026.1,915.1 L1026.7,912.6 L1027.3,910.1 L1027.8,907.6 L1028.2,905.0 L1028.5,902.5 L1028.7,900.0 L1028.8,897.5 L1028.8,895.1 L1028.6,892.6 L1028.3,890.2 L1027.8,887.9 L1027.2,885.6 L1026.6,883.3 L1025.9,881.2 L1025.1,879.0 L1024.2,876.9 L1023.2,874.9 L1022.1,872.9 L1020.9,871.0 L1019.6,869.2 L1018.1,867.5 L1016.5,866.0 L1014.7,864.5 L1012.9,863.3 L1010.9,862.2 L1008.8,861.3 L1006.6,860.7 L1004.4,860.3 L1002.2,860.1 L999.9,860.2 L997.7,860.5 L995.6,861.0 L993.4,861.6 L991.4,862.4 L989.4,863.4 L987.4,864.4 L985.5,865.5 L983.6,866.7 L981.8,868.0 L979.9,869.3 L978.1,870.7 L976.3,872.1 L974.5,873.7 L972.9,875.4 L971.3,877.2 L969.8,879.1 L968.4,881.1 L967.0,883.2 L965.8,885.4 L964.5,887.6 L963.4,889.8 L962.3,892.1 L961.3,894.4 L960.3,896.8 L959.4,899.2 L958.5,901.5 L957.7,903.9 L956.9,906.4 L956.1,908.8 L955.5,911.2 L954.9,913.7 L954.3,916.1 L953.9,918.6 L953.5,921.1 L953.3,923.5 L953.1,926.0 L953.1,928.4 L953.2,930.8 L953.4,933.1 L953.7,935.4 L954.1,937.7 L954.7,939.9 L955.3,942.0 L955.9,944.1 L956.6,946.2 L957.3,948.2 L958.2,950.2 L959.1,952.2 L960.2,954.0 L961.4,955.8 L962.8,957.5 L964.2,959.1 L965.9,960.5 L967.6,961.8 L969.5,962.9 L971.5,963.7 L973.6,964.4 L975.7,964.9 L977.9,965.1 L980.1,965.2 L982.3,965.1 L984.4,964.9 L986.6,964.5 L988.7,963.9 L990.8,963.2 L992.9,962.4 L995.0,961.4 L997.0,960.4 L998.9,959.2 L1000.9,957.9 L1002.8,956.5 L1004.7,955.1 L1006.5,953.4 L1008.2,951.7 L1009.8,949.8 L1011.3,947.9 L1012.8,945.8 L1014.2,943.7 L1015.5,941.5 L1016.7,939.2 L1017.9,936.9 L1019.0,934.6 L1020.0,932.2 L1021.0,929.8 L1022.0,927.4 L1022.9,925.0 Z"/>
<path class="f" d="M1013.8,925.2 L1013.2,926.7 L1012.5,928.2 L1011.9,929.5 L1011.1,930.9 L1010.3,932.2 L1009.5,933.4 L1008.6,934.6 L1007.7,935.7 L1006.8,936.7 L1005.9,937.7 L1005.0,938.6 L1004.0,939.4 L1003.1,940.1 L1002.2,940.7 L1001.3,941.3 L1000.4,941.8 L999.6,942.1 L998.8,942.4 L998.0,942.6 L997.2,942.7 L996.5,942.7 L995.9,942.7 L995.3,942.6 L994.8,942.4 L994.3,942.2 L993.8,942.0 L993.3,941.7 L992.9,941.3 L992.4,940.9 L991.9,940.5 L991.5,939.9 L991.0,939.3 L990.6,938.6 L990.1,937.8 L989.7,936.9 L989.4,935.9 L989.1,934.9 L988.8,933.7 L988.6,932.5 L988.5,931.3 L988.4,929.9 L988.4,928.6 L988.5,927.2 L988.6,925.7 L988.8,924.3 L989.0,922.8 L989.3,921.3 L989.6,919.8 L990.0,918.3 L990.5,916.8 L991.0,915.3 L991.6,913.9 L992.2,912.5 L992.9,911.1 L993.6,909.8 L994.4,908.5 L995.2,907.3 L996.0,906.1 L996.9,905.1 L997.8,904.1 L998.8,903.2 L999.7,902.4 L1000.7,901.7 L1001.6,901.0 L1002.6,900.5 L1003.5,900.1 L1004.4,899.7 L1005.2,899.4 L1006.0,899.2 L1006.7,899.1 L1007.4,899.1 L1008.1,899.0 L1008.7,899.1 L1009.3,899.2 L1009.9,899.4 L1010.4,899.6 L1010.9,899.9 L1011.4,900.3 L1011.9,900.7 L1012.4,901.2 L1012.9,901.8 L1013.3,902.5 L1013.8,903.2 L1014.2,904.1 L1014.5,905.0 L1014.8,906.0 L1015.1,907.1 L1015.4,908.2 L1015.6,909.5 L1015.7,910.7 L1015.8,912.1 L1015.8,913.4 L1015.8,914.9 L1015.7,916.3 L1015.6,917.8 L1015.3,919.3 L1015.0,920.8 L1014.7,922.3 L1014.2,923.8 L1013.7,925.3 L1020.3,927.6 L1020.9,925.9 L1021.5,924.2 L1022.0,922.5 L1022.4,920.7 L1022.7,918.9 L1023.0,917.2 L1023.3,915.4 L1023.4,913.7 L1023.5,912.0 L1023.5,910.3 L1023.4,908.6 L1023.2,907.0 L1022.9,905.4 L1022.6,903.9 L1022.1,902.4 L1021.5,900.9 L1020.9,899.6 L1020.2,898.3 L1019.3,897.1 L1018.4,895.9 L1017.4,894.9 L1016.3,893.9 L1015.2,893.1 L1013.9,892.4 L1012.6,891.9 L1011.2,891.5 L1009.8,891.2 L1008.4,891.1 L1007.0,891.1 L1005.5,891.2 L1004.1,891.5 L1002.7,892.0 L1001.3,892.5 L1000.0,893.2 L998.7,894.0 L997.4,894.9 L996.2,895.8 L995.0,896.9 L993.8,898.0 L992.7,899.2 L991.6,900.5 L990.5,901.8 L989.5,903.2 L988.5,904.7 L987.5,906.1 L986.6,907.7 L985.7,909.3 L984.9,910.9 L984.1,912.6 L983.4,914.2 L982.8,916.0 L982.2,917.7 L981.7,919.5 L981.3,921.2 L980.9,923.0 L980.7,924.8 L980.5,926.5 L980.4,928.3 L980.3,930.0 L980.4,931.7 L980.5,933.4 L980.6,935.0 L980.9,936.6 L981.2,938.2 L981.6,939.7 L982.2,941.2 L982.8,942.6 L983.5,943.9 L984.3,945.2 L985.2,946.4 L986.2,947.5 L987.4,948.4 L988.6,949.3 L989.9,950.0 L991.3,950.5 L992.7,950.9 L994.1,951.1 L995.6,951.2 L997.0,951.2 L998.5,950.9 L999.9,950.6 L1001.3,950.2 L1002.7,949.6 L1004.1,948.9 L1005.4,948.2 L1006.7,947.3 L1008.0,946.4 L1009.2,945.4 L1010.4,944.2 L1011.6,943.0 L1012.7,941.7 L1013.7,940.4 L1014.7,938.9 L1015.7,937.4 L1016.6,935.9 L1017.4,934.3 L1018.2,932.7 L1019.0,931.1 L1019.7,929.4 L1020.3,927.7 Z"/>
<ellipse cx="990" cy="919" rx="4.5" ry="12" transform="rotate(20 990 919)" fill="#fff" stroke="#000" stroke-width="5"/>
<path class="f" d="M747.3,1115.8 L746.6,1112.3 L746.1,1108.9 L745.6,1105.4 L745.4,1101.9 L745.2,1098.5 L745.2,1095.0 L745.3,1091.5 L745.6,1088.1 L746.0,1084.6 L746.5,1081.2 L747.1,1077.8 L747.8,1074.4 L748.6,1071.0 L749.6,1067.7 L750.7,1064.4 L752.0,1061.1 L753.5,1057.9 L755.0,1054.8 L756.7,1051.8 L758.6,1048.8 L760.5,1045.8 L762.5,1043.0 L764.6,1040.2 L766.8,1037.5 L769.1,1034.8 L771.4,1032.1 L773.8,1029.6 L776.4,1027.1 L779.0,1024.8 L781.8,1022.5 L784.7,1020.4 L787.6,1018.5 L790.7,1016.6 L793.7,1014.8 L796.9,1013.2 L800.1,1011.6 L803.3,1010.1 L806.6,1008.7 L809.9,1007.3 L813.3,1006.1 L816.6,1004.8 L820.0,1003.7 L823.4,1002.6 L826.9,1001.6 L830.4,1000.7 L833.9,999.8 L837.5,999.1 L841.1,998.6 L844.7,998.1 L848.3,997.8 L852.0,997.6 L855.7,997.6 L859.3,997.7 L863.0,998.0 L866.6,998.4 L870.2,998.8 L873.9,999.4 L877.5,1000.0 L881.1,1000.7 L884.6,1001.6 L888.2,1002.6 L891.7,1003.6 L895.1,1004.9 L898.5,1006.2 L901.9,1007.7 L905.1,1009.3 L908.3,1011.1 L911.4,1013.0 L914.5,1015.0 L917.4,1017.0 L920.3,1019.2 L923.2,1021.4 L925.9,1023.7 L928.6,1026.1 L931.1,1028.6 L933.6,1031.2 L936.0,1033.9 L938.2,1036.6 L940.4,1039.5 L942.4,1042.5 L949.8,1037.3 L947.7,1034.2 L945.4,1031.1 L943.0,1028.0 L940.5,1025.1 L937.8,1022.2 L935.1,1019.4 L932.3,1016.7 L929.4,1014.0 L926.4,1011.5 L923.2,1009.1 L920.0,1006.8 L916.7,1004.6 L913.3,1002.5 L909.9,1000.5 L906.4,998.6 L902.8,996.8 L899.2,995.1 L895.5,993.5 L891.8,992.0 L888.0,990.6 L884.1,989.3 L880.2,988.2 L876.3,987.2 L872.3,986.3 L868.3,985.6 L864.2,985.1 L860.2,984.8 L856.1,984.5 L852.0,984.4 L847.9,984.3 L843.8,984.4 L839.7,984.6 L835.6,984.9 L831.5,985.3 L827.5,985.9 L823.4,986.6 L819.4,987.5 L815.4,988.5 L811.5,989.7 L807.6,991.1 L803.8,992.6 L800.1,994.4 L796.4,996.2 L792.9,998.3 L789.5,1000.4 L786.1,1002.7 L782.9,1005.1 L779.7,1007.6 L776.6,1010.2 L773.7,1012.9 L770.8,1015.6 L767.9,1018.4 L765.2,1021.3 L762.5,1024.2 L760.0,1027.2 L757.6,1030.3 L755.3,1033.5 L753.2,1036.8 L751.3,1040.2 L749.4,1043.6 L747.7,1047.1 L746.2,1050.6 L744.7,1054.1 L743.4,1057.7 L742.1,1061.4 L741.0,1065.0 L739.9,1068.7 L739.1,1072.4 L738.3,1076.1 L737.7,1079.9 L737.3,1083.6 L737.0,1087.4 L736.8,1091.2 L736.8,1095.0 L736.9,1098.8 L737.2,1102.6 L737.6,1106.3 L738.1,1110.1 L738.7,1113.8 L739.5,1117.4 Z"/>
<path class="f" d="M953.0,1089.7 L952.7,1094.1 L951.7,1098.2 L950.1,1102.2 L947.9,1106.1 L945.2,1109.9 L941.9,1113.6 L938.1,1117.1 L933.9,1120.6 L929.2,1123.9 L924.0,1127.1 L918.4,1130.1 L912.3,1132.7 L905.8,1135.0 L899.0,1137.0 L891.9,1138.6 L884.6,1139.9 L877.1,1140.8 L869.5,1141.5 L861.7,1141.9 L854.0,1142.0 L846.3,1141.9 L838.5,1141.5 L830.9,1140.8 L823.4,1139.9 L816.1,1138.6 L809.0,1137.0 L802.2,1135.0 L795.7,1132.7 L789.6,1130.1 L784.0,1127.1 L778.8,1123.9 L774.1,1120.6 L769.9,1117.1 L766.1,1113.6 L762.8,1109.9 L760.1,1106.1 L757.9,1102.2 L756.3,1098.2 L755.3,1094.1 L755.0,1090.0 L755.3,1085.9 L756.1,1081.8 L757.5,1077.7 L759.5,1073.6 L762.0,1069.5 L765.1,1065.6 L768.8,1061.7 L773.0,1058.0 L777.7,1054.5 L783.0,1051.2 L788.7,1048.1 L794.9,1045.3 L801.4,1042.8 L808.3,1040.7 L815.5,1038.9 L822.9,1037.4 L830.5,1036.2 L838.3,1035.4 L846.1,1034.9 L854.0,1034.8 L861.9,1034.9 L869.7,1035.5 L877.5,1036.3 L885.1,1037.5 L892.5,1039.1 L899.6,1041.0 L906.5,1043.2 L913.0,1045.7 L919.1,1048.5 L924.8,1051.6 L930.0,1054.9 L934.7,1058.4 L938.9,1062.0 L942.6,1065.8 L945.8,1069.7 L948.4,1073.7 L950.4,1077.7 L951.8,1081.8 L952.7,1085.9 L953.0,1090.3 L963.0,1089.7 L962.6,1084.5 L961.6,1079.1 L959.9,1073.8 L957.4,1068.6 L954.4,1063.6 L950.7,1058.8 L946.4,1054.2 L941.6,1049.9 L936.2,1045.9 L930.3,1042.1 L924.0,1038.7 L917.3,1035.6 L910.2,1032.8 L902.8,1030.3 L895.1,1028.2 L887.2,1026.4 L879.1,1025.0 L870.8,1024.1 L862.4,1023.5 L854.0,1023.2 L845.6,1023.5 L837.2,1024.1 L828.9,1025.2 L820.8,1026.6 L812.9,1028.4 L805.3,1030.6 L797.9,1033.1 L790.9,1036.0 L784.2,1039.1 L777.9,1042.6 L772.1,1046.3 L766.7,1050.3 L761.9,1054.5 L757.6,1059.0 L753.8,1063.8 L750.7,1068.7 L748.2,1073.9 L746.5,1079.2 L745.4,1084.5 L745.0,1090.0 L745.3,1095.5 L746.3,1100.9 L747.8,1106.3 L750.1,1111.6 L753.0,1116.8 L756.6,1121.8 L760.8,1126.6 L765.6,1131.1 L771.0,1135.3 L776.9,1139.2 L783.3,1142.7 L790.0,1146.0 L797.1,1149.0 L804.6,1151.7 L812.3,1154.1 L820.3,1156.2 L828.5,1157.8 L836.9,1159.0 L845.4,1159.7 L854.0,1160.0 L862.6,1159.7 L871.1,1159.0 L879.5,1157.8 L887.7,1156.2 L895.7,1154.1 L903.4,1151.7 L910.9,1149.0 L918.0,1146.0 L924.7,1142.7 L931.1,1139.2 L937.0,1135.3 L942.4,1131.1 L947.2,1126.6 L951.4,1121.8 L955.0,1116.8 L957.9,1111.6 L960.2,1106.3 L961.7,1100.9 L962.7,1095.5 L963.0,1090.3 Z"/>
<path class="f" d="M737.0,1085.1 L737.0,1086.5 L737.1,1088.4 L737.1,1090.5 L737.1,1093.0 L737.1,1095.7 L737.2,1098.6 L737.3,1101.5 L737.5,1104.5 L737.7,1107.6 L738.0,1110.5 L738.4,1113.3 L738.8,1116.4 L739.2,1119.5 L739.6,1122.7 L740.1,1126.0 L740.7,1129.3 L741.4,1132.5 L742.1,1135.7 L743.0,1138.7 L744.0,1141.6 L745.1,1144.2 L746.2,1146.6 L747.4,1149.0 L748.7,1151.2 L750.1,1153.4 L751.7,1155.5 L753.5,1157.6 L755.5,1159.6 L757.7,1161.6 L760.2,1163.7 L762.9,1165.7 L765.9,1167.8 L769.1,1169.9 L772.5,1172.0 L776.1,1174.0 L779.8,1175.9 L783.6,1177.8 L787.5,1179.5 L791.4,1181.2 L795.3,1182.7 L799.3,1184.1 L803.5,1185.4 L807.7,1186.7 L812.1,1187.8 L816.5,1188.9 L820.9,1189.8 L825.2,1190.7 L829.3,1191.6 L833.4,1192.3 L837.2,1192.9 L840.8,1193.5 L844.2,1194.0 L847.4,1194.4 L850.6,1194.8 L853.7,1195.1 L856.8,1195.2 L860.0,1195.3 L863.3,1195.3 L866.7,1195.2 L870.3,1195.0 L874.1,1194.7 L878.0,1194.4 L882.1,1194.0 L886.3,1193.5 L890.6,1192.9 L894.9,1192.1 L899.2,1191.2 L903.4,1190.2 L907.6,1188.9 L911.7,1187.5 L915.6,1185.9 L919.5,1184.1 L923.4,1182.2 L927.2,1180.2 L931.0,1178.0 L934.7,1175.7 L938.3,1173.2 L941.7,1170.7 L945.0,1168.0 L948.1,1165.2 L951.1,1162.1 L954.0,1158.5 L956.7,1154.7 L959.2,1150.8 L961.6,1147.0 L963.7,1143.2 L965.6,1139.8 L967.3,1136.7 L968.7,1134.2 L969.8,1132.3 L962.2,1127.7 L960.9,1129.7 L959.4,1132.3 L957.7,1135.4 L955.9,1138.8 L953.8,1142.4 L951.6,1146.1 L949.3,1149.7 L946.8,1153.1 L944.4,1156.1 L941.9,1158.8 L939.2,1161.2 L936.2,1163.6 L933.1,1165.9 L929.8,1168.1 L926.4,1170.2 L922.8,1172.1 L919.2,1173.9 L915.6,1175.6 L912.0,1177.1 L908.3,1178.5 L904.7,1179.7 L901.0,1180.7 L897.1,1181.6 L893.1,1182.3 L889.1,1183.0 L885.0,1183.6 L881.0,1184.0 L877.1,1184.4 L873.3,1184.7 L869.7,1185.0 L866.3,1185.2 L863.1,1185.3 L860.2,1185.3 L857.3,1185.2 L854.4,1185.1 L851.5,1184.8 L848.6,1184.5 L845.5,1184.1 L842.3,1183.6 L838.8,1183.1 L835.1,1182.4 L831.2,1181.7 L827.1,1180.9 L823.0,1180.1 L818.8,1179.1 L814.6,1178.1 L810.4,1177.0 L806.3,1175.9 L802.4,1174.6 L798.7,1173.3 L795.1,1171.9 L791.4,1170.4 L787.8,1168.7 L784.2,1167.0 L780.7,1165.3 L777.3,1163.5 L774.1,1161.7 L771.1,1159.9 L768.3,1158.1 L765.8,1156.3 L763.7,1154.6 L761.8,1153.0 L760.1,1151.4 L758.7,1149.8 L757.4,1148.1 L756.2,1146.4 L755.1,1144.6 L754.1,1142.7 L753.0,1140.6 L752.0,1138.4 L751.0,1136.0 L750.2,1133.4 L749.4,1130.6 L748.7,1127.7 L748.1,1124.6 L747.6,1121.5 L747.1,1118.4 L746.7,1115.3 L746.3,1112.3 L746.0,1109.5 L745.7,1106.8 L745.5,1104.0 L745.3,1101.2 L745.2,1098.3 L745.1,1095.5 L745.1,1092.9 L745.1,1090.5 L745.1,1088.3 L745.0,1086.4 L745.0,1084.9 Z"/>
<path class="f" d="M964.0,1106.0 L964.0,1107.9 L964.0,1110.6 L964.0,1113.7 L964.0,1117.3 L964.0,1121.0 L964.0,1124.7 L964.0,1128.3 L964.0,1131.4 L964.0,1134.1 L964.0,1136.0 L968.0,1136.0 L968.0,1134.1 L968.0,1131.4 L968.0,1128.3 L968.0,1124.7 L968.0,1121.0 L968.0,1117.3 L968.0,1113.7 L968.0,1110.6 L968.0,1107.9 L968.0,1106.0 Z"/>
<path class="f" fill-rule="evenodd" d="M410.3,1324 A135.8,110.5 0 1 0 681.8,1324 A135.8,110.5 0 1 0 410.3,1324 Z M436.5,1320.8 A111.5,67 0 1 0 659.6,1320.8 A111.5,67 0 1 0 436.5,1320.8 Z"/>
<path class="w" d="M429.6,1300.8 L430.9,1297.9 L432.5,1295.0 L434.2,1292.3 L436.0,1289.5 L438.1,1286.9 L440.3,1284.3 L442.7,1281.7 L445.2,1279.3 L447.9,1276.9 L450.7,1274.5 L453.7,1272.3 L456.8,1270.1 L460.0,1267.9 L463.3,1265.9 L466.8,1263.9 L470.3,1261.9 L474.0,1260.1 L477.8,1258.3 L481.7,1256.6 L485.7,1255.0 L489.8,1253.6 L493.9,1252.2 L498.2,1251.0 L502.5,1249.8 L506.9,1248.8 L511.4,1247.8 L515.9,1247.0 L520.5,1246.3 L525.1,1245.7 L529.7,1245.2 L534.4,1244.8 L539.1,1244.5 L543.8,1244.3 L548.5,1244.3 L553.2,1244.3 L557.9,1244.5 L562.6,1244.8 L567.2,1245.2 L571.9,1245.7 L576.5,1246.3 L581.0,1247.1 L585.5,1247.9 L590.0,1248.9 L594.4,1249.9 L598.7,1251.1 L602.9,1252.4 L607.1,1253.8 L611.2,1255.3 L615.1,1256.9 L619.0,1258.6 L622.8,1260.4 L626.5,1262.2 L630.0,1264.1 L633.5,1266.1 L636.8,1268.2 L640.0,1270.4 L643.0,1272.6 L645.9,1274.9 L648.7,1277.3 L651.3,1279.8 L653.7,1282.3 L656.0,1284.9 L658.2,1287.6 L660.1,1290.3 L661.9,1293.0 L663.5,1295.8 L664.9,1298.6 L666.2,1301.5 L667.3,1304.4 L668.3,1307.3 L669.1,1310.2 L669.7,1313.1 L670.1,1316.1 L670.3,1319.1 L670.4,1322.1 L670.2,1325.0 L669.9,1328.0 L669.4,1331.0 L668.7,1334.0 L667.8,1336.9 L669.8,1337.5 L670.7,1334.5 L671.4,1331.4 L672.0,1328.3 L672.4,1325.2 L672.6,1322.1 L672.6,1319.0 L672.5,1315.9 L672.1,1312.8 L671.6,1309.6 L670.9,1306.6 L670.0,1303.5 L668.9,1300.4 L667.6,1297.4 L666.1,1294.4 L664.4,1291.5 L662.6,1288.6 L660.6,1285.7 L658.4,1282.9 L656.1,1280.2 L653.6,1277.5 L651.0,1274.9 L648.2,1272.3 L645.3,1269.8 L642.2,1267.4 L639.0,1265.0 L635.6,1262.7 L632.1,1260.5 L628.5,1258.4 L624.7,1256.5 L620.9,1254.6 L616.9,1252.8 L612.8,1251.1 L608.6,1249.6 L604.3,1248.1 L600.0,1246.8 L595.5,1245.5 L591.0,1244.4 L586.5,1243.4 L581.9,1242.4 L577.2,1241.6 L572.5,1240.9 L567.7,1240.4 L562.9,1239.9 L558.1,1239.6 L553.3,1239.4 L548.5,1239.3 L543.7,1239.4 L538.8,1239.5 L534.0,1239.8 L529.2,1240.2 L524.5,1240.8 L519.8,1241.4 L515.1,1242.2 L510.4,1243.1 L505.9,1244.1 L501.3,1245.2 L496.9,1246.4 L492.5,1247.8 L488.2,1249.2 L484.0,1250.8 L479.9,1252.4 L475.9,1254.2 L472.0,1256.0 L468.2,1257.9 L464.6,1260.0 L461.0,1262.1 L457.6,1264.4 L454.4,1266.7 L451.3,1269.2 L448.3,1271.7 L445.5,1274.3 L442.9,1277.0 L440.5,1279.7 L438.2,1282.5 L436.0,1285.3 L434.1,1288.2 L432.3,1291.1 L430.6,1294.0 L429.1,1297.0 L427.8,1299.9 Z"/>
<path class="w" d="M434.9,1375.1 L434.0,1373.8 L433.1,1372.5 L432.3,1371.2 L431.5,1369.9 L430.7,1368.6 L429.9,1367.3 L429.2,1366.0 L428.5,1364.6 L427.8,1363.3 L427.2,1361.9 L426.5,1360.6 L425.9,1359.2 L425.4,1357.8 L424.8,1356.4 L424.3,1355.1 L423.8,1353.7 L423.3,1352.3 L422.9,1350.9 L422.4,1349.5 L422.0,1348.1 L421.6,1346.7 L421.3,1345.3 L420.9,1343.8 L420.6,1342.4 L420.3,1341.0 L420.0,1339.6 L419.8,1338.2 L419.5,1336.8 L419.3,1335.3 L419.1,1333.9 L418.9,1332.5 L418.8,1331.1 L418.7,1329.6 L418.6,1328.2 L418.5,1326.8 L418.5,1325.3 L418.5,1323.9 L418.5,1322.5 L418.6,1321.0 L418.6,1319.6 L418.7,1318.2 L418.8,1316.7 L419.0,1315.3 L419.1,1313.9 L419.3,1312.4 L419.5,1311.0 L419.8,1309.6 L420.1,1308.2 L420.4,1306.8 L420.7,1305.4 L421.0,1303.9 L421.4,1302.5 L421.8,1301.1 L422.2,1299.7 L422.6,1298.3 L423.1,1297.0 L423.6,1295.6 L424.1,1294.2 L424.6,1292.8 L425.1,1291.4 L425.7,1290.1 L426.3,1288.7 L426.9,1287.3 L427.5,1286.0 L428.1,1284.6 L428.8,1283.3 L429.5,1281.9 L430.2,1280.6 L431.0,1279.3 L431.8,1278.0 L432.6,1276.7 L433.4,1275.4 L434.2,1274.1 L435.1,1272.8 L436.0,1271.5 L436.9,1270.3 L437.9,1269.0 L438.9,1267.8 L439.9,1266.6 L440.9,1265.4 L439.8,1264.4 L438.7,1265.6 L437.7,1266.9 L436.7,1268.1 L435.7,1269.3 L434.7,1270.6 L433.7,1271.8 L432.8,1273.1 L431.9,1274.3 L431.0,1275.6 L430.1,1276.9 L429.2,1278.2 L428.4,1279.5 L427.6,1280.8 L426.8,1282.2 L426.0,1283.5 L425.3,1284.9 L424.6,1286.2 L423.9,1287.6 L423.2,1289.0 L422.6,1290.4 L422.0,1291.7 L421.4,1293.2 L420.8,1294.6 L420.3,1296.0 L419.8,1297.4 L419.3,1298.9 L418.9,1300.3 L418.5,1301.8 L418.1,1303.2 L417.8,1304.7 L417.4,1306.1 L417.1,1307.6 L416.8,1309.1 L416.6,1310.5 L416.4,1312.0 L416.2,1313.5 L416.0,1315.0 L415.8,1316.5 L415.7,1317.9 L415.6,1319.4 L415.6,1320.9 L415.5,1322.4 L415.5,1323.9 L415.5,1325.4 L415.5,1326.9 L415.6,1328.3 L415.7,1329.8 L415.8,1331.3 L416.0,1332.8 L416.1,1334.3 L416.3,1335.8 L416.6,1337.2 L416.8,1338.7 L417.1,1340.2 L417.4,1341.6 L417.7,1343.1 L418.1,1344.6 L418.5,1346.0 L418.9,1347.5 L419.4,1348.9 L419.9,1350.3 L420.4,1351.7 L420.9,1353.2 L421.5,1354.6 L422.1,1356.0 L422.7,1357.3 L423.3,1358.7 L424.0,1360.1 L424.7,1361.5 L425.4,1362.8 L426.1,1364.2 L426.9,1365.5 L427.7,1366.8 L428.5,1368.2 L429.3,1369.5 L430.1,1370.8 L431.0,1372.1 L431.9,1373.4 L432.8,1374.7 L433.7,1375.9 Z"/>
<path class="w" d="M618.6,1402.9 L617.0,1403.7 L615.4,1404.5 L613.8,1405.3 L612.2,1406.1 L610.6,1406.8 L608.9,1407.5 L607.2,1408.2 L605.5,1408.8 L603.8,1409.5 L602.1,1410.1 L600.4,1410.7 L598.6,1411.2 L596.9,1411.8 L595.1,1412.3 L593.3,1412.8 L591.6,1413.3 L589.8,1413.7 L588.0,1414.2 L586.1,1414.6 L584.3,1415.0 L582.5,1415.4 L580.7,1415.7 L578.8,1416.1 L577.0,1416.4 L575.1,1416.7 L573.3,1417.0 L571.4,1417.3 L569.5,1417.5 L567.7,1417.7 L565.8,1417.9 L563.9,1418.1 L562.0,1418.3 L560.1,1418.4 L558.3,1418.5 L556.4,1418.6 L554.5,1418.7 L552.6,1418.7 L550.7,1418.7 L548.8,1418.7 L546.9,1418.7 L545.0,1418.7 L543.1,1418.6 L541.2,1418.5 L539.3,1418.4 L537.4,1418.2 L535.5,1418.1 L533.7,1417.9 L531.8,1417.7 L529.9,1417.4 L528.1,1417.2 L526.2,1416.9 L524.3,1416.6 L522.5,1416.3 L520.6,1415.9 L518.8,1415.6 L517.0,1415.2 L515.2,1414.8 L513.4,1414.4 L511.5,1413.9 L509.8,1413.5 L508.0,1413.0 L506.2,1412.5 L504.4,1412.0 L502.7,1411.5 L500.9,1410.9 L499.2,1410.4 L497.4,1409.8 L495.7,1409.2 L494.0,1408.5 L492.3,1407.9 L490.7,1407.2 L489.0,1406.5 L487.4,1405.8 L485.7,1405.0 L484.1,1404.3 L482.5,1403.5 L481.0,1402.7 L479.4,1401.8 L477.9,1401.0 L476.4,1400.1 L475.9,1400.9 L477.4,1401.8 L478.9,1402.7 L480.5,1403.6 L482.0,1404.4 L483.6,1405.3 L485.2,1406.1 L486.8,1406.9 L488.5,1407.7 L490.1,1408.5 L491.8,1409.2 L493.4,1410.0 L495.1,1410.7 L496.8,1411.4 L498.6,1412.1 L500.3,1412.7 L502.0,1413.4 L503.8,1414.0 L505.6,1414.6 L507.4,1415.1 L509.1,1415.7 L511.0,1416.2 L512.8,1416.7 L514.6,1417.2 L516.5,1417.6 L518.3,1418.0 L520.2,1418.4 L522.0,1418.7 L523.9,1419.1 L525.8,1419.4 L527.7,1419.7 L529.6,1419.9 L531.5,1420.2 L533.4,1420.4 L535.3,1420.6 L537.2,1420.7 L539.1,1420.9 L541.1,1421.0 L543.0,1421.1 L544.9,1421.2 L546.8,1421.2 L548.8,1421.2 L550.7,1421.2 L552.6,1421.2 L554.5,1421.2 L556.5,1421.1 L558.4,1421.0 L560.3,1420.9 L562.2,1420.8 L564.1,1420.6 L566.1,1420.4 L568.0,1420.2 L569.9,1420.0 L571.8,1419.7 L573.7,1419.5 L575.5,1419.2 L577.4,1418.8 L579.3,1418.5 L581.1,1418.1 L583.0,1417.6 L584.8,1417.2 L586.7,1416.7 L588.5,1416.2 L590.3,1415.7 L592.1,1415.2 L593.9,1414.6 L595.7,1414.0 L597.4,1413.4 L599.2,1412.8 L600.9,1412.1 L602.6,1411.5 L604.3,1410.8 L606.0,1410.1 L607.7,1409.3 L609.4,1408.6 L611.0,1407.8 L612.7,1407.1 L614.3,1406.3 L615.9,1405.5 L617.5,1404.6 L619.1,1403.8 Z"/>
<path class="w" d="M610.8,1415.2 L609.5,1415.8 L608.1,1416.3 L606.8,1416.9 L605.4,1417.4 L604.0,1417.9 L602.6,1418.4 L601.2,1418.8 L599.8,1419.3 L598.4,1419.7 L597.0,1420.1 L595.5,1420.5 L594.1,1420.9 L592.6,1421.3 L591.2,1421.7 L589.7,1422.0 L588.3,1422.3 L586.8,1422.7 L585.3,1423.0 L583.9,1423.3 L582.4,1423.5 L580.9,1423.8 L579.4,1424.1 L577.9,1424.3 L576.4,1424.6 L574.9,1424.8 L573.4,1425.0 L571.9,1425.2 L570.4,1425.4 L568.9,1425.6 L567.4,1425.8 L565.9,1426.0 L564.3,1426.1 L562.8,1426.2 L561.3,1426.4 L559.8,1426.5 L558.2,1426.5 L556.7,1426.6 L555.2,1426.7 L553.6,1426.7 L552.1,1426.7 L550.6,1426.7 L549.0,1426.7 L547.5,1426.7 L546.0,1426.7 L544.5,1426.7 L542.9,1426.6 L541.4,1426.5 L539.9,1426.4 L538.3,1426.3 L536.8,1426.2 L535.3,1426.1 L533.8,1425.9 L532.3,1425.8 L530.8,1425.6 L529.2,1425.4 L527.7,1425.2 L526.2,1425.0 L524.7,1424.8 L523.2,1424.6 L521.7,1424.3 L520.2,1424.1 L518.7,1423.8 L517.3,1423.6 L515.8,1423.3 L514.3,1423.0 L512.8,1422.7 L511.3,1422.4 L509.9,1422.0 L508.4,1421.7 L507.0,1421.3 L505.5,1420.9 L504.1,1420.5 L502.7,1420.1 L501.2,1419.7 L499.8,1419.3 L498.4,1418.8 L497.0,1418.3 L495.6,1417.8 L494.3,1417.3 L492.9,1416.8 L492.5,1417.7 L493.9,1418.2 L495.3,1418.8 L496.7,1419.3 L498.1,1419.8 L499.5,1420.3 L500.9,1420.8 L502.3,1421.3 L503.7,1421.8 L505.1,1422.3 L506.6,1422.7 L508.0,1423.2 L509.5,1423.6 L510.9,1424.0 L512.4,1424.4 L513.9,1424.8 L515.3,1425.2 L516.8,1425.6 L518.3,1425.9 L519.8,1426.3 L521.3,1426.6 L522.8,1426.9 L524.3,1427.1 L525.9,1427.4 L527.4,1427.6 L528.9,1427.9 L530.4,1428.1 L532.0,1428.2 L533.5,1428.4 L535.1,1428.6 L536.6,1428.7 L538.2,1428.8 L539.7,1428.9 L541.3,1429.0 L542.8,1429.1 L544.4,1429.2 L545.9,1429.2 L547.5,1429.2 L549.0,1429.2 L550.6,1429.2 L552.1,1429.2 L553.7,1429.2 L555.3,1429.2 L556.8,1429.1 L558.4,1429.0 L559.9,1428.9 L561.5,1428.8 L563.0,1428.7 L564.6,1428.6 L566.1,1428.5 L567.6,1428.3 L569.2,1428.1 L570.7,1427.9 L572.2,1427.7 L573.8,1427.5 L575.3,1427.3 L576.8,1427.0 L578.3,1426.7 L579.8,1426.4 L581.3,1426.1 L582.8,1425.8 L584.3,1425.4 L585.8,1425.0 L587.3,1424.7 L588.7,1424.3 L590.2,1423.8 L591.7,1423.4 L593.1,1423.0 L594.5,1422.5 L596.0,1422.0 L597.4,1421.5 L598.8,1421.0 L600.2,1420.5 L601.6,1420.0 L603.0,1419.5 L604.4,1419.0 L605.8,1418.4 L607.1,1417.9 L608.5,1417.3 L609.9,1416.7 L611.2,1416.1 Z"/>
<path class="w" d="M427.7,1279.5 L428.2,1278.6 L428.7,1277.8 L429.2,1277.0 L429.7,1276.2 L430.2,1275.3 L430.8,1274.5 L431.3,1273.7 L431.9,1272.9 L432.5,1272.1 L433.1,1271.4 L433.6,1270.6 L434.2,1269.8 L434.9,1269.0 L435.5,1268.3 L436.1,1267.5 L436.7,1266.7 L437.4,1266.0 L438.0,1265.2 L438.7,1264.5 L439.4,1263.8 L440.0,1263.0 L440.7,1262.3 L441.4,1261.6 L442.1,1260.9 L442.8,1260.2 L443.5,1259.5 L444.2,1258.8 L445.0,1258.1 L445.7,1257.4 L446.4,1256.7 L447.2,1256.0 L447.9,1255.3 L448.7,1254.6 L449.5,1254.0 L450.2,1253.3 L451.0,1252.6 L451.8,1252.0 L452.6,1251.3 L453.4,1250.7 L454.2,1250.0 L455.0,1249.4 L455.8,1248.7 L456.6,1248.1 L457.4,1247.5 L458.2,1246.8 L459.1,1246.2 L459.9,1245.6 L460.7,1245.0 L461.6,1244.3 L462.4,1243.7 L463.3,1243.1 L464.2,1242.5 L465.0,1241.9 L465.9,1241.3 L466.8,1240.8 L467.7,1240.2 L468.6,1239.6 L469.5,1239.0 L470.4,1238.5 L471.3,1237.9 L472.2,1237.4 L473.1,1236.8 L474.1,1236.3 L475.0,1235.8 L476.0,1235.3 L476.9,1234.7 L477.9,1234.2 L478.8,1233.7 L479.8,1233.2 L480.8,1232.8 L481.7,1232.3 L482.7,1231.8 L483.7,1231.4 L484.7,1230.9 L485.7,1230.5 L486.7,1230.0 L487.7,1229.6 L488.8,1229.2 L489.8,1228.8 L490.8,1228.4 L490.5,1227.5 L489.4,1227.9 L488.4,1228.3 L487.4,1228.7 L486.3,1229.1 L485.3,1229.5 L484.3,1229.9 L483.3,1230.3 L482.3,1230.8 L481.2,1231.2 L480.2,1231.6 L479.2,1232.1 L478.2,1232.5 L477.2,1233.0 L476.3,1233.5 L475.3,1233.9 L474.3,1234.4 L473.3,1234.9 L472.4,1235.4 L471.4,1235.9 L470.4,1236.4 L469.5,1236.9 L468.5,1237.4 L467.6,1238.0 L466.6,1238.5 L465.7,1239.0 L464.8,1239.6 L463.9,1240.1 L463.0,1240.7 L462.1,1241.3 L461.2,1241.9 L460.3,1242.4 L459.4,1243.0 L458.5,1243.6 L457.6,1244.3 L456.8,1244.9 L455.9,1245.5 L455.1,1246.1 L454.2,1246.8 L453.4,1247.4 L452.6,1248.1 L451.8,1248.7 L451.0,1249.4 L450.2,1250.1 L449.4,1250.8 L448.6,1251.5 L447.8,1252.2 L447.1,1252.9 L446.3,1253.6 L445.6,1254.3 L444.9,1255.0 L444.1,1255.8 L443.4,1256.5 L442.7,1257.3 L442.0,1258.0 L441.3,1258.8 L440.7,1259.5 L440.0,1260.3 L439.3,1261.1 L438.7,1261.8 L438.0,1262.6 L437.4,1263.4 L436.8,1264.2 L436.1,1265.0 L435.5,1265.8 L434.9,1266.6 L434.3,1267.4 L433.8,1268.2 L433.2,1269.0 L432.6,1269.8 L432.0,1270.6 L431.5,1271.5 L430.9,1272.3 L430.4,1273.1 L429.9,1273.9 L429.4,1274.8 L428.8,1275.6 L428.3,1276.4 L427.8,1277.3 L427.3,1278.1 L426.8,1279.0 Z"/>
<path class="f" d="M617,1376 L621,1368 L632,1360 L640,1353 L649,1345 L662,1340 L679,1340 L679,1353 L690,1353 L696,1365 L702,1374 L702,1393 L697,1399 L687,1400 L679,1395 L665,1399 L656,1402 L650,1405 L640,1418 L612,1420 L600,1420 L607,1400 L612,1393 Z"/>
<path class="f" d="M560,1386 L585,1388 L600,1398 L612,1396 L612,1420 L607,1438 L594,1443 L580,1438 L572,1433 L560,1430 Z"/>
<g fill="#fff"><path d="M665,1370 L677,1370 L677,1379 L665,1379 Z"/><path d="M685,1363 L690,1363 L690,1368 L685,1368 Z"/><path d="M627,1372 L632,1370 L645,1385 L644,1390 L638,1388 Z"/><path d="M648,1380 L660,1365 L662,1369 L651,1383 Z"/><path d="M631,1393 L640,1395 L640,1413 L632,1413 Z"/><path d="M680,1386 L697,1389 L695,1393 L682,1391 Z"/><path d="M575,1395 L581,1395 L595,1406 L590,1408 Z"/><path d="M582,1429 L587,1425 L592,1430 Z"/></g>
<path class="f" d="M633.0,1627.9 L632.9,1630.5 L632.7,1633.1 L632.3,1635.6 L631.8,1638.1 L631.2,1640.6 L630.4,1643.0 L629.5,1645.5 L628.4,1647.9 L627.2,1650.3 L625.9,1652.6 L624.4,1655.0 L622.8,1657.2 L621.1,1659.5 L619.3,1661.6 L617.4,1663.8 L615.3,1665.9 L613.1,1667.9 L610.8,1669.9 L608.4,1671.8 L605.9,1673.6 L603.3,1675.4 L600.6,1677.1 L597.8,1678.8 L594.9,1680.3 L592.0,1681.8 L588.9,1683.1 L585.8,1684.4 L582.5,1685.6 L579.3,1686.7 L575.9,1687.7 L572.5,1688.6 L569.1,1689.4 L565.6,1690.2 L562.1,1690.8 L558.6,1691.3 L555.0,1691.7 L551.4,1692.1 L547.8,1692.3 L544.1,1692.5 L540.5,1692.5 L536.9,1692.5 L533.2,1692.3 L529.6,1692.1 L526.0,1691.7 L522.4,1691.3 L518.9,1690.8 L515.4,1690.2 L511.9,1689.4 L508.5,1688.6 L505.1,1687.7 L501.7,1686.7 L498.5,1685.6 L495.2,1684.4 L492.1,1683.1 L489.0,1681.8 L486.1,1680.3 L483.2,1678.8 L480.4,1677.1 L477.7,1675.4 L475.1,1673.6 L472.6,1671.8 L470.2,1669.9 L467.9,1667.9 L465.7,1665.9 L463.6,1663.8 L461.7,1661.6 L459.9,1659.5 L458.2,1657.2 L456.6,1655.0 L455.1,1652.6 L453.8,1650.3 L452.6,1647.9 L451.5,1645.5 L450.6,1643.0 L449.8,1640.6 L449.2,1638.1 L448.7,1635.6 L448.3,1633.1 L448.1,1630.5 L448.0,1627.9 L443.0,1628.1 L443.1,1630.8 L443.3,1633.6 L443.7,1636.4 L444.2,1639.2 L444.8,1642.0 L445.7,1644.7 L446.6,1647.4 L447.7,1650.1 L449.0,1652.8 L450.4,1655.4 L451.9,1658.0 L453.6,1660.5 L455.4,1663.0 L457.3,1665.4 L459.4,1667.8 L461.6,1670.1 L463.9,1672.3 L466.3,1674.5 L468.9,1676.5 L471.6,1678.5 L474.4,1680.4 L477.2,1682.3 L480.2,1684.0 L483.3,1685.7 L486.4,1687.3 L489.6,1688.8 L492.9,1690.2 L496.3,1691.6 L499.7,1692.8 L503.2,1693.9 L506.8,1695.0 L510.4,1695.9 L514.0,1696.7 L517.7,1697.5 L521.5,1698.1 L525.3,1698.6 L529.0,1699.0 L532.9,1699.3 L536.7,1699.4 L540.5,1699.5 L544.3,1699.4 L548.1,1699.3 L552.0,1699.0 L555.7,1698.6 L559.5,1698.1 L563.3,1697.5 L567.0,1696.7 L570.6,1695.9 L574.2,1695.0 L577.8,1693.9 L581.3,1692.8 L584.7,1691.6 L588.1,1690.2 L591.4,1688.8 L594.6,1687.3 L597.7,1685.7 L600.8,1684.0 L603.8,1682.3 L606.6,1680.4 L609.4,1678.5 L612.1,1676.5 L614.7,1674.5 L617.1,1672.3 L619.4,1670.1 L621.6,1667.8 L623.7,1665.4 L625.6,1663.0 L627.4,1660.5 L629.1,1658.0 L630.6,1655.4 L632.0,1652.8 L633.3,1650.1 L634.4,1647.4 L635.3,1644.7 L636.2,1642.0 L636.8,1639.2 L637.3,1636.4 L637.7,1633.6 L637.9,1630.8 L638.0,1628.1 Z"/>
<path class="f" d="M443.5,1622.0 L443.5,1622.5 L443.5,1623.2 L443.5,1624.1 L443.5,1625.0 L443.5,1626.0 L443.5,1627.0 L443.5,1627.9 L443.5,1628.8 L443.5,1629.5 L443.5,1630.0 L448.5,1630.0 L448.5,1629.5 L448.5,1628.8 L448.5,1627.9 L448.5,1627.0 L448.5,1626.0 L448.5,1625.0 L448.5,1624.1 L448.5,1623.2 L448.5,1622.5 L448.5,1622.0 Z"/>
<path class="f" d="M632.5,1622.0 L632.5,1622.5 L632.5,1623.2 L632.5,1624.1 L632.5,1625.0 L632.5,1626.0 L632.5,1627.0 L632.5,1627.9 L632.5,1628.8 L632.5,1629.5 L632.5,1630.0 L637.5,1630.0 L637.5,1629.5 L637.5,1628.8 L637.5,1627.9 L637.5,1627.0 L637.5,1626.0 L637.5,1625.0 L637.5,1624.1 L637.5,1623.2 L637.5,1622.5 L637.5,1622.0 Z"/>
<ellipse class="f" cx="546" cy="1571.5" rx="103" ry="81"/>
<path class="w" d="M449.5,1571.5 L449.6,1568.6 L449.8,1565.7 L450.2,1562.8 L450.8,1559.9 L451.5,1557.0 L452.3,1554.2 L453.3,1551.4 L454.5,1548.6 L455.7,1545.9 L457.2,1543.2 L458.7,1540.6 L460.4,1538.0 L462.2,1535.5 L464.1,1533.0 L466.2,1530.6 L468.4,1528.2 L470.7,1525.9 L473.1,1523.7 L475.6,1521.5 L478.2,1519.5 L480.9,1517.4 L483.7,1515.5 L486.6,1513.7 L489.6,1511.9 L492.7,1510.3 L495.9,1508.7 L499.1,1507.3 L502.5,1505.9 L505.8,1504.7 L509.3,1503.5 L512.8,1502.5 L516.4,1501.5 L520.0,1500.7 L523.6,1500.0 L527.3,1499.4 L531.0,1498.9 L534.7,1498.5 L538.5,1498.2 L542.2,1498.1 L546.0,1498.0 L549.8,1498.1 L553.5,1498.2 L557.3,1498.5 L561.0,1498.9 L564.7,1499.4 L568.4,1500.0 L572.0,1500.7 L575.6,1501.5 L579.2,1502.5 L582.7,1503.5 L586.2,1504.7 L589.5,1505.9 L592.9,1507.3 L596.1,1508.7 L599.3,1510.3 L602.4,1511.9 L605.4,1513.7 L608.3,1515.5 L611.1,1517.4 L613.8,1519.5 L616.4,1521.5 L618.9,1523.7 L621.3,1525.9 L623.6,1528.2 L625.8,1530.6 L627.9,1533.0 L629.8,1535.5 L631.6,1538.0 L633.3,1540.6 L634.8,1543.2 L636.3,1545.9 L637.5,1548.6 L638.7,1551.4 L639.7,1554.2 L640.5,1557.0 L641.2,1559.9 L641.8,1562.8 L642.2,1565.7 L642.4,1568.6 L642.5,1571.5 L643.5,1571.5 L643.4,1568.5 L643.2,1565.6 L642.9,1562.6 L642.4,1559.7 L641.7,1556.7 L641.0,1553.8 L640.0,1550.9 L639.0,1548.0 L637.7,1545.2 L636.4,1542.4 L634.9,1539.6 L633.3,1536.9 L631.5,1534.2 L629.6,1531.6 L627.5,1529.1 L625.3,1526.6 L623.0,1524.2 L620.6,1521.9 L618.0,1519.6 L615.4,1517.5 L612.6,1515.4 L609.7,1513.4 L606.7,1511.5 L603.6,1509.7 L600.5,1508.0 L597.2,1506.4 L593.9,1504.9 L590.5,1503.4 L587.1,1502.1 L583.5,1500.9 L580.0,1499.8 L576.3,1498.8 L572.6,1497.9 L568.9,1497.2 L565.1,1496.5 L561.4,1496.0 L557.5,1495.5 L553.7,1495.2 L549.9,1495.1 L546.0,1495.0 L542.1,1495.1 L538.3,1495.2 L534.5,1495.5 L530.6,1496.0 L526.9,1496.5 L523.1,1497.2 L519.4,1497.9 L515.7,1498.8 L512.0,1499.8 L508.5,1500.9 L504.9,1502.1 L501.5,1503.4 L498.1,1504.9 L494.8,1506.4 L491.5,1508.0 L488.4,1509.7 L485.3,1511.5 L482.3,1513.4 L479.4,1515.4 L476.6,1517.5 L474.0,1519.6 L471.4,1521.9 L469.0,1524.2 L466.7,1526.6 L464.5,1529.1 L462.4,1531.6 L460.5,1534.2 L458.7,1536.9 L457.1,1539.6 L455.6,1542.4 L454.3,1545.2 L453.0,1548.0 L452.0,1550.9 L451.0,1553.8 L450.3,1556.7 L449.6,1559.7 L449.1,1562.6 L448.8,1565.6 L448.6,1568.5 L448.5,1571.5 Z"/>
<g class="ws" stroke-width="4"><path d="M483,1527 L541,1511"/><path d="M493,1535 L537,1524" stroke-width="5"/><path d="M499,1544 L510,1542"/><path d="M556,1517 L556,1532" stroke-width="5"/><path d="M572,1517 L600,1526" stroke-width="5"/><path d="M579,1531 L612,1541"/><path d="M592,1541 L624,1551"/><path d="M612,1530 L617,1538" stroke-width="5"/></g>
<path class="w" d="M452,1550 L468,1541 L488,1548 L497,1575 L484,1597 L465,1600 L450,1591 L447,1570 Z"/>
<g class="s" stroke-width="5"><path d="M459,1556 L459,1598"/><path d="M471,1552 L471,1592"/><path d="M485,1548 L492,1580"/></g>
<path class="w" d="M600,1566 L627,1565 L612,1578 Z"/>
<g class="ws" stroke-width="3.5"><path d="M470,1614 L510,1603"/><path d="M488,1630 L530,1638"/><path d="M546,1612 L556,1640"/><path d="M566,1612 L600,1606"/><path d="M576,1628 L604,1620"/><path d="M618,1586 L624,1600"/><path d="M460,1612 L468,1620"/><path d="M520,1640 L535,1642"/></g>
<ellipse class="w" cx="543" cy="1567" rx="44" ry="28"/>
<ellipse class="f" cx="543" cy="1567" rx="40" ry="25"/>
<ellipse class="w" cx="546" cy="1573" rx="35" ry="17.5"/>
<path class="f" d="M643.0,1824.9 L642.8,1828.9 L642.4,1832.8 L641.6,1836.6 L640.5,1840.4 L639.1,1844.2 L637.4,1847.8 L635.4,1851.4 L633.2,1854.9 L630.7,1858.3 L628.0,1861.6 L625.0,1864.8 L621.8,1867.8 L618.4,1870.8 L614.8,1873.6 L610.9,1876.3 L606.9,1878.9 L602.8,1881.3 L598.4,1883.6 L593.9,1885.8 L589.3,1887.8 L584.5,1889.7 L579.6,1891.4 L574.5,1892.9 L569.4,1894.3 L564.1,1895.4 L558.8,1896.3 L553.4,1897.1 L548.0,1897.6 L542.5,1897.9 L537.0,1898.0 L531.5,1897.9 L526.0,1897.6 L520.6,1897.1 L515.2,1896.3 L509.9,1895.4 L504.6,1894.3 L499.5,1892.9 L494.4,1891.4 L489.5,1889.7 L484.7,1887.8 L480.1,1885.8 L475.6,1883.6 L471.3,1881.2 L467.2,1878.7 L463.2,1876.0 L459.5,1873.3 L456.0,1870.3 L452.7,1867.3 L449.7,1864.2 L446.8,1861.0 L444.3,1857.6 L441.9,1854.2 L439.9,1850.7 L438.1,1847.2 L436.5,1843.6 L435.3,1839.9 L434.3,1836.2 L433.6,1832.5 L433.1,1828.8 L433.0,1825.0 L433.1,1821.2 L433.6,1817.5 L434.3,1813.8 L435.3,1810.1 L436.6,1806.4 L438.2,1802.9 L440.0,1799.3 L442.1,1795.9 L444.4,1792.5 L447.0,1789.2 L449.9,1786.0 L452.9,1782.9 L456.2,1779.9 L459.8,1777.1 L463.5,1774.3 L467.4,1771.7 L471.5,1769.2 L475.8,1766.9 L480.3,1764.7 L484.9,1762.6 L489.7,1760.7 L494.6,1759.0 L499.6,1757.4 L504.7,1756.1 L509.9,1754.9 L515.2,1753.8 L520.6,1753.0 L526.0,1752.4 L531.5,1752.0 L537.0,1751.8 L542.5,1751.7 L548.0,1751.9 L553.5,1752.4 L558.9,1753.0 L564.3,1753.8 L569.6,1754.9 L574.8,1756.2 L579.9,1757.7 L584.9,1759.4 L589.7,1761.3 L594.4,1763.3 L598.9,1765.5 L603.2,1767.9 L607.4,1770.4 L611.4,1773.0 L615.2,1775.8 L618.9,1778.7 L622.2,1781.7 L625.4,1784.9 L628.3,1788.1 L631.0,1791.5 L633.5,1794.9 L635.7,1798.5 L637.6,1802.1 L639.2,1805.8 L640.6,1809.5 L641.6,1813.4 L642.4,1817.2 L642.8,1821.1 L643.0,1825.1 L651.0,1824.9 L650.9,1820.5 L650.4,1816.1 L649.7,1811.6 L648.6,1807.2 L647.3,1802.8 L645.7,1798.5 L643.7,1794.2 L641.5,1790.0 L639.0,1785.9 L636.2,1781.9 L633.1,1778.0 L629.7,1774.2 L626.1,1770.6 L622.2,1767.1 L618.1,1763.8 L613.8,1760.7 L609.2,1757.8 L604.4,1755.0 L599.5,1752.5 L594.3,1750.2 L589.0,1748.1 L583.6,1746.2 L578.1,1744.4 L572.4,1742.9 L566.7,1741.6 L560.8,1740.5 L554.9,1739.6 L549.0,1738.9 L543.0,1738.5 L537.0,1738.2 L531.0,1738.3 L525.0,1738.5 L519.0,1739.0 L513.0,1739.7 L507.1,1740.6 L501.3,1741.8 L495.6,1743.2 L490.0,1744.8 L484.5,1746.7 L479.1,1748.8 L473.9,1751.1 L468.9,1753.7 L464.0,1756.4 L459.4,1759.4 L454.9,1762.6 L450.7,1765.9 L446.8,1769.4 L443.1,1773.0 L439.6,1776.9 L436.5,1780.8 L433.6,1784.9 L430.9,1789.1 L428.6,1793.3 L426.6,1797.7 L424.9,1802.1 L423.5,1806.6 L422.4,1811.2 L421.6,1815.8 L421.2,1820.4 L421.0,1825.0 L421.2,1829.6 L421.6,1834.2 L422.4,1838.8 L423.5,1843.3 L425.0,1847.8 L426.7,1852.3 L428.8,1856.6 L431.1,1860.9 L433.7,1865.0 L436.6,1869.0 L439.8,1873.0 L443.3,1876.7 L447.0,1880.3 L451.0,1883.8 L455.2,1887.1 L459.6,1890.2 L464.3,1893.2 L469.1,1895.9 L474.1,1898.4 L479.3,1900.7 L484.6,1902.8 L490.1,1904.7 L495.7,1906.4 L501.4,1907.9 L507.2,1909.1 L513.1,1910.2 L519.0,1911.0 L525.0,1911.5 L531.0,1911.9 L537.0,1912.0 L543.0,1911.9 L549.0,1911.5 L555.0,1911.0 L560.9,1910.2 L566.8,1909.1 L572.6,1907.9 L578.3,1906.4 L583.9,1904.7 L589.4,1902.8 L594.7,1900.7 L599.9,1898.4 L604.9,1895.8 L609.7,1893.0 L614.3,1890.0 L618.6,1886.9 L622.7,1883.5 L626.6,1879.9 L630.2,1876.2 L633.5,1872.4 L636.6,1868.4 L639.3,1864.3 L641.8,1860.2 L644.0,1855.9 L645.9,1851.6 L647.4,1847.3 L648.7,1842.8 L649.7,1838.4 L650.4,1833.9 L650.9,1829.5 L651.0,1825.1 Z"/>
<path class="w" d="M434.1,1852.1 L433.8,1851.5 L433.5,1850.8 L433.2,1850.2 L432.9,1849.5 L432.6,1848.8 L432.3,1848.2 L432.1,1847.5 L431.8,1846.8 L431.6,1846.2 L431.4,1845.5 L431.1,1844.8 L430.9,1844.1 L430.7,1843.4 L430.6,1842.8 L430.4,1842.1 L430.2,1841.4 L430.1,1840.7 L429.9,1840.0 L429.8,1839.3 L429.6,1838.7 L429.5,1838.0 L429.4,1837.3 L429.3,1836.6 L429.2,1835.9 L429.1,1835.2 L429.0,1834.5 L428.9,1833.9 L428.9,1833.2 L428.8,1832.5 L428.8,1831.8 L428.7,1831.1 L428.7,1830.4 L428.6,1829.8 L428.6,1829.1 L428.6,1828.4 L428.5,1827.7 L428.5,1827.0 L428.5,1826.4 L428.5,1825.7 L428.5,1825.0 L428.5,1824.3 L428.5,1823.6 L428.5,1823.0 L428.5,1822.3 L428.6,1821.6 L428.6,1820.9 L428.6,1820.2 L428.7,1819.6 L428.7,1818.9 L428.8,1818.2 L428.8,1817.5 L428.9,1816.8 L428.9,1816.1 L429.0,1815.5 L429.1,1814.8 L429.2,1814.1 L429.3,1813.4 L429.4,1812.7 L429.5,1812.0 L429.6,1811.3 L429.8,1810.7 L429.9,1810.0 L430.1,1809.3 L430.2,1808.6 L430.4,1807.9 L430.6,1807.2 L430.7,1806.6 L430.9,1805.9 L431.1,1805.2 L431.4,1804.5 L431.6,1803.8 L431.8,1803.2 L432.1,1802.5 L432.3,1801.8 L432.6,1801.2 L432.9,1800.5 L433.2,1799.8 L433.5,1799.2 L433.8,1798.5 L434.1,1797.9 L433.2,1797.4 L432.9,1798.1 L432.5,1798.7 L432.2,1799.4 L431.9,1800.1 L431.6,1800.7 L431.3,1801.4 L431.0,1802.1 L430.7,1802.7 L430.4,1803.4 L430.1,1804.1 L429.9,1804.7 L429.6,1805.4 L429.3,1806.1 L429.1,1806.8 L428.8,1807.4 L428.6,1808.1 L428.4,1808.8 L428.1,1809.5 L427.9,1810.2 L427.7,1810.9 L427.5,1811.6 L427.3,1812.3 L427.1,1813.0 L426.9,1813.6 L426.8,1814.3 L426.6,1815.0 L426.5,1815.8 L426.3,1816.5 L426.2,1817.2 L426.1,1817.9 L426.0,1818.6 L425.9,1819.3 L425.8,1820.0 L425.7,1820.7 L425.7,1821.4 L425.6,1822.1 L425.6,1822.9 L425.5,1823.6 L425.5,1824.3 L425.5,1825.0 L425.5,1825.7 L425.5,1826.4 L425.6,1827.1 L425.6,1827.9 L425.7,1828.6 L425.7,1829.3 L425.8,1830.0 L425.9,1830.7 L426.0,1831.4 L426.1,1832.1 L426.2,1832.8 L426.3,1833.5 L426.5,1834.2 L426.6,1835.0 L426.8,1835.7 L426.9,1836.4 L427.1,1837.0 L427.3,1837.7 L427.5,1838.4 L427.7,1839.1 L427.9,1839.8 L428.1,1840.5 L428.4,1841.2 L428.6,1841.9 L428.8,1842.6 L429.1,1843.2 L429.3,1843.9 L429.6,1844.6 L429.9,1845.3 L430.1,1845.9 L430.4,1846.6 L430.7,1847.3 L431.0,1847.9 L431.3,1848.6 L431.6,1849.3 L431.9,1849.9 L432.2,1850.6 L432.5,1851.3 L432.9,1851.9 L433.2,1852.6 Z"/>
<path class="f" d="M447.3,1876.8 L447.6,1875.3 L448.1,1873.9 L448.6,1872.5 L449.3,1871.1 L450.2,1869.7 L451.1,1868.4 L452.2,1867.0 L453.4,1865.7 L454.6,1864.4 L456.0,1863.2 L457.6,1861.9 L459.2,1860.7 L460.9,1859.5 L462.7,1858.3 L464.6,1857.1 L466.5,1856.0 L468.6,1854.8 L470.8,1853.7 L473.0,1852.6 L475.3,1851.5 L477.8,1850.5 L480.3,1849.5 L482.8,1848.6 L485.5,1847.7 L488.3,1846.9 L491.1,1846.1 L494.0,1845.5 L496.9,1844.8 L499.9,1844.3 L502.9,1843.8 L506.0,1843.3 L509.2,1842.9 L512.3,1842.6 L515.5,1842.3 L518.7,1842.0 L521.9,1841.8 L525.2,1841.7 L528.5,1841.6 L531.7,1841.5 L535.0,1841.5 L538.3,1841.5 L541.5,1841.6 L544.8,1841.7 L548.1,1841.8 L551.3,1842.0 L554.5,1842.3 L557.7,1842.6 L560.8,1842.9 L564.0,1843.3 L567.1,1843.8 L570.1,1844.3 L573.1,1844.8 L576.0,1845.5 L578.9,1846.1 L581.7,1846.9 L584.5,1847.7 L587.2,1848.6 L589.7,1849.5 L592.2,1850.5 L594.7,1851.5 L597.0,1852.6 L599.2,1853.7 L601.4,1854.8 L603.5,1856.0 L605.4,1857.1 L607.3,1858.3 L609.1,1859.5 L610.8,1860.7 L612.4,1861.9 L614.0,1863.2 L615.4,1864.4 L616.6,1865.7 L617.8,1867.0 L618.9,1868.4 L619.8,1869.7 L620.7,1871.1 L621.4,1872.5 L621.9,1873.9 L622.4,1875.3 L622.7,1876.8 L630.6,1875.2 L630.2,1873.3 L629.7,1871.3 L629.0,1869.4 L628.3,1867.4 L627.4,1865.5 L626.4,1863.6 L625.2,1861.7 L624.0,1859.8 L622.6,1858.0 L621.1,1856.1 L619.4,1854.4 L617.7,1852.6 L615.8,1850.9 L613.8,1849.3 L611.7,1847.7 L609.5,1846.1 L607.2,1844.6 L604.8,1843.2 L602.3,1841.9 L599.7,1840.6 L596.9,1839.4 L594.2,1838.3 L591.3,1837.1 L588.4,1836.0 L585.4,1835.0 L582.4,1834.0 L579.3,1833.0 L576.1,1832.1 L572.9,1831.3 L569.6,1830.5 L566.3,1829.8 L563.0,1829.1 L559.5,1828.5 L556.1,1828.0 L552.6,1827.6 L549.1,1827.2 L545.6,1826.9 L542.1,1826.7 L538.6,1826.5 L535.0,1826.5 L531.4,1826.5 L527.9,1826.7 L524.4,1826.9 L520.9,1827.2 L517.4,1827.6 L513.9,1828.0 L510.5,1828.5 L507.0,1829.1 L503.7,1829.8 L500.4,1830.5 L497.1,1831.3 L493.9,1832.1 L490.7,1833.0 L487.6,1834.0 L484.6,1835.0 L481.6,1836.0 L478.7,1837.1 L475.8,1838.3 L473.1,1839.4 L470.3,1840.6 L467.7,1841.9 L465.2,1843.2 L462.8,1844.6 L460.5,1846.1 L458.3,1847.7 L456.2,1849.3 L454.2,1850.9 L452.3,1852.6 L450.6,1854.4 L448.9,1856.1 L447.4,1858.0 L446.0,1859.8 L444.8,1861.7 L443.6,1863.6 L442.6,1865.5 L441.7,1867.4 L441.0,1869.4 L440.3,1871.3 L439.8,1873.3 L439.4,1875.2 Z"/>
<path class="f" d="M478.9,1880.4 L478.5,1879.1 L478.3,1877.9 L478.1,1876.7 L478.0,1875.5 L478.0,1874.3 L478.1,1873.1 L478.3,1872.0 L478.6,1870.8 L479.0,1869.6 L479.4,1868.4 L479.9,1867.2 L480.6,1866.1 L481.3,1864.9 L482.1,1863.8 L482.9,1862.7 L483.9,1861.5 L485.0,1860.4 L486.1,1859.4 L487.3,1858.3 L488.6,1857.3 L490.0,1856.3 L491.4,1855.3 L493.0,1854.3 L494.5,1853.4 L496.2,1852.5 L497.9,1851.7 L499.7,1850.8 L501.6,1850.1 L503.5,1849.3 L505.5,1848.6 L507.5,1847.9 L509.6,1847.3 L511.7,1846.8 L513.9,1846.2 L516.0,1845.7 L518.3,1845.3 L520.5,1844.9 L522.8,1844.6 L525.1,1844.3 L527.5,1844.0 L529.8,1843.8 L532.2,1843.7 L534.6,1843.6 L536.9,1843.5 L539.3,1843.5 L541.7,1843.6 L544.1,1843.7 L546.4,1843.8 L548.8,1844.0 L551.1,1844.3 L553.4,1844.6 L555.7,1845.0 L558.0,1845.4 L560.2,1845.8 L562.4,1846.3 L564.5,1846.9 L566.6,1847.4 L568.7,1848.1 L570.7,1848.8 L572.7,1849.5 L574.6,1850.2 L576.4,1851.0 L578.2,1851.9 L579.9,1852.8 L581.5,1853.7 L583.1,1854.6 L584.6,1855.6 L586.0,1856.6 L587.4,1857.6 L588.7,1858.6 L589.8,1859.7 L590.9,1860.8 L592.0,1861.9 L592.9,1863.0 L593.7,1864.1 L594.5,1865.3 L595.2,1866.4 L595.8,1867.6 L596.3,1868.7 L596.7,1869.9 L601.4,1868.3 L600.9,1866.9 L600.3,1865.4 L599.6,1864.0 L598.7,1862.6 L597.8,1861.2 L596.8,1859.9 L595.7,1858.6 L594.5,1857.3 L593.3,1856.1 L591.9,1854.8 L590.5,1853.7 L589.0,1852.5 L587.4,1851.4 L585.8,1850.3 L584.0,1849.3 L582.2,1848.3 L580.4,1847.4 L578.5,1846.5 L576.5,1845.6 L574.5,1844.8 L572.4,1844.0 L570.2,1843.3 L568.1,1842.7 L565.8,1842.0 L563.6,1841.4 L561.3,1840.9 L558.9,1840.4 L556.5,1840.0 L554.1,1839.6 L551.7,1839.3 L549.3,1839.1 L546.8,1838.8 L544.3,1838.7 L541.9,1838.6 L539.4,1838.5 L536.9,1838.5 L534.4,1838.6 L531.9,1838.7 L529.5,1838.8 L527.0,1839.0 L524.5,1839.3 L522.1,1839.6 L519.7,1840.0 L517.4,1840.4 L515.0,1840.9 L512.7,1841.4 L510.4,1842.0 L508.2,1842.6 L506.0,1843.3 L503.9,1844.0 L501.8,1844.8 L499.8,1845.6 L497.8,1846.5 L495.9,1847.4 L494.0,1848.4 L492.3,1849.4 L490.5,1850.4 L488.9,1851.5 L487.3,1852.6 L485.8,1853.7 L484.4,1854.9 L483.1,1856.1 L481.8,1857.4 L480.6,1858.6 L479.6,1860.0 L478.6,1861.3 L477.7,1862.6 L476.9,1864.0 L476.2,1865.4 L475.5,1866.9 L475.0,1868.3 L474.6,1869.8 L474.3,1871.2 L474.1,1872.7 L474.0,1874.2 L474.0,1875.7 L474.1,1877.1 L474.3,1878.6 L474.6,1880.1 L475.0,1881.5 Z"/>
<path class="f" d="M430.0,1862.0 L430.0,1867.5 L430.0,1874.9 L429.9,1884.0 L429.9,1894.0 L429.9,1904.6 L429.9,1915.2 L429.9,1925.3 L429.9,1934.5 L429.9,1942.3 L430.0,1948.1 L430.1,1952.1 L430.3,1954.9 L430.6,1956.9 L431.4,1959.0 L437.2,1960.2 L438.8,1958.3 L439.2,1957.3 L439.4,1956.8 L438.7,1957.7 L434.3,1958.6 L437.7,1951.4 L433.0,1952.1 L432.0,1953.8 L431.7,1954.5 L431.7,1954.7 L432.8,1953.5 L438.1,1954.7 L438.4,1955.3 L438.3,1954.2 L438.1,1951.7 L438.0,1947.9 L437.9,1942.2 L437.9,1934.5 L437.9,1925.3 L437.9,1915.2 L437.9,1904.6 L437.9,1894.0 L437.9,1884.0 L438.0,1875.0 L438.0,1867.5 L438.0,1862.0 Z"/>
<path class="f" d="M636.0,1868.0 L636.0,1872.6 L636.0,1878.8 L636.1,1886.3 L636.1,1894.6 L636.1,1903.4 L636.1,1912.2 L636.1,1920.7 L636.1,1928.4 L636.1,1934.9 L636.0,1939.9 L635.9,1943.4 L635.7,1945.8 L635.5,1947.2 L635.4,1947.8 L635.7,1947.3 L637.3,1946.0 L639.1,1945.7 L638.3,1945.6 L635.0,1947.1 L634.3,1948.5 L641.7,1951.5 L641.2,1952.2 L638.3,1953.6 L638.0,1953.6 L640.2,1953.4 L642.3,1951.7 L643.1,1950.1 L643.4,1948.5 L643.7,1946.5 L643.9,1943.8 L644.0,1940.1 L644.1,1935.0 L644.1,1928.4 L644.1,1920.7 L644.1,1912.2 L644.1,1903.4 L644.1,1894.6 L644.1,1886.2 L644.0,1878.8 L644.0,1872.6 L644.0,1868.0 Z"/>
<path class="f" d="M437,1892 L447,1898 L459,1912 L459,1922 L448,1922 L437,1912 Z"/><path class="w" d="M442,1900 L452,1910 L452,1916 L442,1908 Z"/>
<path class="f" d="M636,1902 L622,1912 L622,1922 L632,1923 L636,1918 Z"/><path class="w" d="M627,1914 L633,1909 L632,1915 L627,1918 Z"/>
<path class="f" d="M435.9,1944.3 L437.1,1945.4 L438.5,1946.8 L440.2,1948.6 L442.1,1950.7 L444.3,1952.9 L446.7,1955.2 L449.3,1957.6 L452.2,1960.0 L455.2,1962.2 L458.4,1964.3 L461.8,1966.2 L465.4,1968.1 L469.2,1970.1 L473.2,1972.0 L477.3,1973.9 L481.6,1975.8 L485.9,1977.5 L490.2,1979.1 L494.5,1980.6 L498.6,1981.8 L502.7,1982.9 L506.8,1983.8 L510.8,1984.7 L514.9,1985.4 L518.9,1986.0 L523.0,1986.4 L527.2,1986.7 L531.4,1987.0 L535.7,1987.0 L540.1,1987.0 L544.6,1986.9 L549.3,1986.6 L554.1,1986.3 L559.1,1985.9 L564.0,1985.3 L569.0,1984.5 L573.9,1983.6 L578.7,1982.5 L583.4,1981.2 L587.8,1979.7 L592.1,1977.8 L596.2,1975.6 L600.1,1973.1 L603.9,1970.5 L607.5,1967.7 L610.9,1964.9 L614.1,1962.1 L617.2,1959.4 L620.1,1956.8 L622.9,1954.4 L625.7,1951.9 L628.5,1949.3 L631.1,1946.7 L633.6,1944.1 L636.0,1941.5 L638.1,1939.1 L640.0,1936.9 L641.7,1934.9 L643.2,1933.3 L644.3,1932.0 L637.7,1926.0 L636.5,1927.3 L635.0,1929.0 L633.3,1931.0 L631.4,1933.1 L629.3,1935.5 L627.0,1937.9 L624.7,1940.4 L622.2,1942.9 L619.7,1945.3 L617.1,1947.6 L614.2,1950.0 L611.3,1952.5 L608.2,1955.1 L605.0,1957.6 L601.7,1960.2 L598.3,1962.6 L594.8,1964.9 L591.3,1967.0 L587.8,1968.8 L584.2,1970.3 L580.4,1971.7 L576.2,1972.8 L571.9,1973.8 L567.4,1974.7 L562.7,1975.4 L558.0,1975.9 L553.3,1976.3 L548.7,1976.6 L544.2,1976.9 L539.9,1977.0 L535.8,1977.0 L531.8,1977.0 L527.8,1976.8 L524.0,1976.5 L520.2,1976.0 L516.4,1975.5 L512.7,1974.8 L508.9,1974.1 L505.1,1973.2 L501.4,1972.2 L497.5,1971.0 L493.5,1969.7 L489.5,1968.2 L485.4,1966.5 L481.4,1964.8 L477.5,1963.0 L473.6,1961.1 L470.0,1959.3 L466.6,1957.5 L463.6,1955.7 L460.8,1954.0 L458.2,1952.1 L455.6,1950.1 L453.1,1948.0 L450.8,1946.0 L448.7,1944.0 L446.7,1942.1 L444.9,1940.4 L443.4,1938.9 L442.1,1937.7 Z"/>
<path class="f" d="M429.6,1950.1 L430.7,1952.0 L432.1,1954.5 L433.6,1957.6 L435.5,1961.1 L437.5,1964.9 L439.8,1968.9 L442.5,1972.8 L445.4,1976.7 L448.6,1980.3 L452.2,1983.5 L456.1,1986.3 L460.3,1988.9 L464.7,1991.4 L469.4,1993.7 L474.3,1995.9 L479.3,1997.9 L484.3,1999.8 L489.2,2001.5 L494.1,2003.0 L498.9,2004.4 L503.6,2005.5 L508.4,2006.4 L513.3,2007.2 L518.1,2007.8 L522.9,2008.2 L527.7,2008.5 L532.3,2008.6 L536.8,2008.7 L541.1,2008.6 L545.2,2008.5 L549.1,2008.3 L552.9,2007.9 L556.4,2007.5 L559.9,2006.9 L563.2,2006.2 L566.5,2005.4 L569.8,2004.5 L573.0,2003.5 L576.2,2002.4 L579.5,2001.2 L582.9,2000.0 L586.4,1998.6 L589.9,1997.1 L593.4,1995.6 L596.9,1993.9 L600.4,1992.1 L603.9,1990.2 L607.3,1988.1 L610.6,1985.9 L613.8,1983.5 L617.0,1980.8 L620.2,1977.6 L623.4,1974.2 L626.4,1970.7 L629.3,1967.2 L632.1,1963.7 L634.5,1960.5 L636.7,1957.7 L638.6,1955.3 L640.0,1953.6 L634.0,1948.4 L632.4,1950.2 L630.4,1952.6 L628.1,1955.4 L625.6,1958.5 L622.8,1961.7 L619.9,1965.0 L616.9,1968.3 L613.9,1971.4 L611.0,1974.1 L608.2,1976.5 L605.4,1978.6 L602.4,1980.5 L599.3,1982.4 L596.2,1984.2 L592.9,1985.8 L589.7,1987.4 L586.3,1988.9 L583.0,1990.3 L579.7,1991.6 L576.5,1992.8 L573.3,1993.9 L570.2,1994.9 L567.2,1995.9 L564.2,1996.7 L561.3,1997.4 L558.2,1998.0 L555.1,1998.6 L551.9,1999.0 L548.5,1999.3 L544.8,1999.5 L540.9,1999.6 L536.8,1999.7 L532.5,1999.6 L528.1,1999.5 L523.6,1999.2 L519.0,1998.8 L514.5,1998.3 L510.0,1997.6 L505.5,1996.7 L501.1,1995.6 L496.7,1994.4 L492.0,1992.9 L487.3,1991.3 L482.5,1989.5 L477.8,1987.6 L473.3,1985.6 L468.9,1983.4 L464.8,1981.1 L461.1,1978.8 L457.8,1976.5 L454.9,1973.9 L452.2,1971.0 L449.6,1967.7 L447.1,1964.2 L444.9,1960.6 L442.8,1957.1 L440.9,1953.7 L439.2,1950.6 L437.7,1948.0 L436.4,1945.9 Z"/>
<circle class="f" cx="541" cy="1888" r="5"/><path class="f" d="M550,1885 L565,1888 L576,1897 L553,1898 Z"/>
<path class="f" d="M836.0,207.1 L824.6,207.2 L808.9,207.5 L790.1,207.8 L769.1,208.1 L747.0,208.2 L724.9,208.4 L703.9,208.7 L685.1,209.0 L669.4,209.3 L658.0,209.4 L658.0,218.6 L669.4,218.7 L685.1,219.0 L703.9,219.3 L724.9,219.6 L747.0,219.8 L769.1,219.9 L790.1,220.2 L808.9,220.5 L824.6,220.8 L836.0,220.9 Z"/><circle class="f" cx="836" cy="214" r="6.9"/><path class="f" d="M699.6,213.0 L696.0,200.0 L672.0,208.4 L672.0,217.6 L696.0,226.0 Z"/>
<path class="f" d="M834.9,340.1 L835.2,354.5 L835.7,374.4 L836.2,398.4 L836.8,425.0 L837.3,453.1 L837.7,481.1 L838.3,507.7 L838.8,531.7 L839.3,551.6 L839.6,566.0 L846.4,566.0 L846.3,551.5 L846.2,531.6 L846.2,507.6 L846.0,481.0 L845.7,452.9 L845.5,424.9 L845.3,398.2 L845.3,374.3 L845.2,354.4 L845.1,339.9 Z"/><circle class="f" cx="840" cy="340" r="5.1"/><path class="f" d="M841.7,515.3 L826.7,521.2 L838.9,559.0 L845.7,559.0 L856.7,520.8 Z"/>
<path class="f" d="M378.8,460.8 L387.7,459.6 L399.9,457.9 L414.6,455.7 L431.0,453.4 L448.2,451.2 L465.4,449.0 L481.8,446.7 L496.5,444.6 L508.7,442.8 L517.6,441.6 L516.4,432.4 L507.5,433.4 L495.3,434.6 L480.5,436.1 L464.1,437.8 L446.8,439.8 L429.6,441.8 L413.1,443.5 L398.3,445.0 L386.1,446.2 L377.2,447.2 Z"/><circle class="f" cx="378" cy="454" r="6.9"/><path class="f" d="M457.2,444.1 L462.7,456.5 L487.5,445.0 L486.3,435.9 L459.5,430.7 Z"/>
<path class="f" d="M310.7,631.9 L323.2,630.5 L340.4,628.6 L361.2,626.2 L384.3,623.7 L408.6,621.2 L432.8,618.7 L455.9,616.2 L476.7,613.9 L493.9,611.9 L506.4,610.6 L505.6,601.4 L493.0,602.5 L475.7,603.9 L454.9,605.6 L431.8,607.5 L407.4,609.8 L383.1,612.0 L360.0,614.0 L339.2,615.6 L321.9,617.0 L309.3,618.1 Z"/><circle class="f" cx="310" cy="625" r="6.9"/><path class="f" d="M411.2,613.6 L416.3,625.7 L441.4,615.3 L440.5,606.2 L413.9,600.8 Z"/>
<path class="f" d="M311.8,820.3 L319.7,820.4 L330.4,820.4 L343.3,820.4 L357.7,820.5 L372.9,820.7 L388.0,821.0 L402.4,821.1 L415.3,821.1 L426.1,821.1 L433.9,821.2 L434.1,812.8 L426.3,812.5 L415.6,812.0 L402.6,811.3 L388.3,810.7 L373.1,810.3 L358.0,809.8 L343.6,809.2 L330.7,808.5 L320.0,808.0 L312.2,807.7 Z"/><circle class="f" cx="312" cy="814" r="6.3"/><path class="f" d="M381.7,814.6 L384.7,827.2 L406.9,819.5 L407.1,811.1 L385.3,802.2 Z"/>
<path class="f" d="M997.6,711.9 L983.6,717.5 L964.3,725.3 L941.1,734.7 L915.2,745.1 L888.0,755.9 L860.8,766.6 L834.9,777.1 L811.7,786.5 L792.4,794.3 L778.4,799.9 L781.6,808.1 L795.7,802.7 L815.2,795.4 L838.6,786.6 L864.7,776.7 L892.0,766.1 L919.3,755.6 L945.4,745.7 L968.8,736.9 L988.3,729.5 L1002.4,724.1 Z"/><circle class="f" cx="1000" cy="718" r="6.6"/><path class="f" d="M819.5,790.3 L811.4,779.5 L792.2,796.3 L795.4,804.5 L820.9,803.7 Z"/>
<path class="f" d="M1122.2,748.9 L1105.5,753.9 L1082.5,760.9 L1054.8,769.2 L1024.0,778.4 L991.5,788.0 L959.1,797.5 L928.2,806.7 L900.6,815.1 L877.6,822.0 L860.8,827.0 L863.2,835.0 L880.0,830.3 L903.1,823.8 L931.0,816.1 L961.9,807.4 L994.5,798.0 L1027.0,788.7 L1058.0,780.0 L1085.8,772.2 L1109.0,765.8 L1125.8,761.1 Z"/><circle class="f" cx="1124" cy="755" r="6.3"/><path class="f" d="M906.2,827.3 L898.6,814.9 L876.3,831.6 L878.7,839.7 L906.4,841.8 Z"/>
<path class="f" d="M1295.7,804.8 L1278.0,808.8 L1253.6,814.3 L1224.3,821.0 L1191.7,828.3 L1157.4,835.9 L1123.1,843.4 L1090.4,850.8 L1061.1,857.4 L1036.8,862.9 L1019.1,866.9 L1020.9,875.1 L1038.6,871.4 L1063.1,866.3 L1092.5,860.3 L1125.2,853.5 L1159.6,846.1 L1194.0,838.8 L1226.7,832.0 L1256.2,825.9 L1280.6,820.9 L1298.3,817.2 Z"/><circle class="f" cx="1297" cy="811" r="6.3"/><path class="f" d="M1065.9,864.0 L1058.1,853.5 L1024.5,868.7 L1026.3,876.9 L1063.1,876.9 Z"/>
<path class="f" d="M1117.1,1138.4 L1107.4,1138.4 L1094.0,1138.5 L1077.9,1138.6 L1059.9,1138.6 L1041.1,1138.5 L1022.2,1138.4 L1004.3,1138.4 L988.2,1138.5 L974.8,1138.6 L965.1,1138.6 L964.9,1147.4 L974.7,1147.6 L988.0,1148.1 L1004.1,1148.6 L1022.1,1149.1 L1040.9,1149.5 L1059.8,1149.9 L1077.7,1150.4 L1093.8,1150.9 L1107.2,1151.4 L1116.9,1151.6 Z"/><circle class="f" cx="1117" cy="1145" r="6.6"/><path class="f" d="M1000.3,1142.2 L997.2,1129.6 L975.1,1137.5 L974.9,1146.3 L996.8,1154.6 Z"/>
<path class="f" d="M1289.6,1240.7 L1287.5,1232.1 L1284.5,1220.1 L1281.0,1205.8 L1277.1,1189.8 L1273.1,1172.9 L1269.2,1156.1 L1265.3,1140.1 L1261.7,1125.8 L1258.8,1113.8 L1256.7,1105.2 L1249.3,1106.8 L1251.2,1115.6 L1253.7,1127.6 L1256.7,1142.1 L1260.1,1158.2 L1263.9,1175.1 L1267.6,1191.9 L1271.0,1208.0 L1274.1,1222.5 L1276.6,1234.5 L1278.4,1243.3 Z"/><circle class="f" cx="1284" cy="1242" r="5.7"/><path class="f" d="M1263.3,1146.0 L1274.5,1138.8 L1259.4,1111.5 L1252.0,1113.2 L1250.1,1144.4 Z"/>
<path class="f" d="M813.3,1565.8 L802.5,1555.1 L787.6,1540.5 L769.7,1522.9 L749.8,1503.2 L729.0,1482.5 L708.3,1461.7 L688.4,1442.1 L670.5,1424.5 L655.6,1409.9 L644.8,1399.2 L639.2,1404.8 L649.8,1415.6 L664.3,1430.6 L681.8,1448.6 L701.3,1468.6 L722.0,1489.5 L742.6,1510.4 L762.1,1530.4 L779.6,1548.4 L794.1,1563.4 L804.7,1574.2 Z"/><circle class="f" cx="809" cy="1570" r="6.0"/><path class="f" d="M680.8,1453.9 L686.4,1442.5 L661.0,1428.3 L655.3,1433.9 L669.4,1459.4 Z"/>
<path class="f" d="M798.6,1751.2 L788.3,1743.5 L774.1,1733.0 L757.0,1720.3 L737.9,1706.1 L718.0,1691.0 L698.1,1676.0 L679.1,1661.8 L662.0,1649.1 L647.7,1638.5 L637.4,1630.8 L632.6,1637.2 L642.8,1645.1 L656.7,1656.0 L673.5,1669.2 L692.2,1683.8 L712.0,1699.0 L731.7,1714.2 L750.5,1728.8 L767.3,1741.9 L781.2,1752.9 L791.4,1760.8 Z"/><circle class="f" cx="795" cy="1756" r="6.0"/><path class="f" d="M671.5,1664.0 L675.4,1651.9 L648.3,1641.3 L643.4,1647.7 L660.9,1671.0 Z"/>
<path class="f" d="M804.3,1935.5 L794.2,1931.3 L780.3,1925.8 L763.6,1919.0 L744.9,1911.5 L725.4,1903.4 L705.9,1895.3 L687.3,1887.7 L670.6,1881.0 L656.6,1875.4 L646.6,1871.3 L643.4,1878.7 L653.5,1883.0 L667.2,1889.0 L683.7,1896.3 L702.1,1904.3 L721.6,1912.6 L741.0,1920.9 L759.4,1928.9 L775.9,1936.2 L789.7,1942.2 L799.7,1946.5 Z"/><circle class="f" cx="802" cy="1941" r="6.0"/><path class="f" d="M678.8,1891.1 L679.6,1878.4 L650.6,1874.9 L647.5,1882.3 L670.3,1900.5 Z"/>
<path class="f" d="M263.9,1456.2 L268.8,1445.4 L275.0,1431.4 L282.3,1414.9 L290.5,1396.3 L299.3,1376.3 L308.7,1355.5 L318.3,1334.3 L328.0,1313.5 L337.6,1293.5 L346.9,1274.9 L356.5,1256.5 L367.0,1237.0 L378.1,1216.8 L389.4,1196.5 L400.7,1176.6 L411.5,1157.6 L421.6,1140.1 L430.6,1124.4 L438.2,1111.1 L444.1,1100.8 L437.9,1097.2 L432.0,1107.5 L424.2,1120.7 L415.0,1136.2 L404.7,1153.7 L393.7,1172.6 L382.2,1192.4 L370.6,1212.6 L359.3,1232.7 L348.6,1252.3 L338.9,1270.8 L329.5,1289.5 L319.7,1309.5 L309.8,1330.4 L299.9,1351.5 L290.3,1372.2 L281.2,1392.2 L272.8,1410.6 L265.3,1427.1 L259.0,1441.0 L254.1,1451.8 Z"/><circle class="f" cx="259" cy="1454" r="5.4"/><path class="f" d="M425.1,1131.4 L436.9,1132.4 L444.0,1102.3 L437.6,1099.0 L417.4,1122.3 Z"/>
<path class="f" d="M261.2,1459.3 L272.2,1454.5 L287.4,1447.8 L305.6,1439.9 L325.9,1431.0 L347.3,1421.9 L368.8,1412.7 L389.1,1403.9 L407.3,1395.9 L422.4,1389.3 L433.5,1384.5 L430.5,1377.5 L419.4,1382.1 L404.1,1388.3 L385.6,1395.8 L365.1,1404.2 L343.7,1413.1 L322.2,1422.1 L301.7,1430.5 L283.2,1438.0 L267.9,1444.2 L256.8,1448.7 Z"/><circle class="f" cx="259" cy="1454" r="5.7"/><path class="f" d="M392.6,1399.6 L402.0,1408.7 L430.1,1387.9 L427.2,1380.9 L392.7,1386.6 Z"/>
<path class="f" d="M256.8,1459.3 L269.2,1464.3 L286.3,1471.1 L306.8,1479.3 L329.7,1488.6 L353.7,1498.4 L377.7,1508.2 L400.5,1517.4 L421.1,1525.7 L438.2,1532.5 L450.5,1537.5 L453.5,1530.5 L441.1,1525.3 L424.2,1518.0 L403.9,1509.3 L381.2,1499.6 L357.3,1489.6 L333.4,1479.6 L310.7,1469.9 L290.4,1461.2 L273.5,1453.9 L261.2,1448.7 Z"/><circle class="f" cx="259" cy="1454" r="5.7"/><path class="f" d="M410.4,1515.0 L410.6,1528.7 L447.2,1534.4 L450.1,1527.4 L420.2,1505.6 Z"/>
<path class="f" d="M257.2,1461.8 L261.5,1472.7 L266.8,1486.7 L273.1,1503.3 L280.2,1522.0 L287.9,1542.1 L296.1,1563.1 L304.6,1584.3 L313.2,1605.4 L321.7,1625.6 L330.0,1644.4 L338.8,1663.0 L348.5,1682.7 L358.8,1702.9 L369.4,1723.2 L380.1,1743.0 L390.3,1762.0 L399.9,1779.5 L408.4,1795.1 L415.5,1808.3 L421.0,1818.6 L427.0,1815.4 L421.6,1805.1 L414.5,1791.8 L406.2,1776.1 L396.8,1758.5 L386.8,1739.4 L376.5,1719.5 L366.0,1699.2 L355.9,1679.0 L346.4,1659.4 L337.8,1640.9 L329.6,1622.2 L321.2,1602.1 L312.8,1581.1 L304.6,1559.8 L296.7,1538.8 L289.2,1518.6 L282.3,1499.9 L276.2,1483.2 L270.9,1469.1 L266.8,1458.2 Z"/><circle class="f" cx="262" cy="1460" r="5.1"/><path class="f" d="M400.3,1773.3 L391.8,1783.7 L416.2,1816.6 L422.4,1813.8 L413.7,1773.8 Z"/>
<path class="f" d="M1160.3,1512.0 L1160.4,1520.5 L1160.6,1532.2 L1160.9,1546.3 L1161.2,1562.0 L1161.2,1578.5 L1161.3,1595.0 L1161.6,1610.7 L1161.9,1624.8 L1162.1,1636.5 L1162.2,1645.0 L1169.8,1645.0 L1169.9,1636.5 L1170.1,1624.8 L1170.4,1610.7 L1170.7,1595.0 L1170.8,1578.5 L1170.8,1562.0 L1171.1,1546.3 L1171.4,1532.2 L1171.6,1520.5 L1171.7,1512.0 Z"/><circle class="f" cx="1166" cy="1512" r="5.7"/><path class="f" d="M1167.0,1601.6 L1154.5,1607.0 L1163.2,1643.0 L1170.8,1643.0 L1179.5,1607.0 Z"/>
<path class="f" d="M254,1450 L262,1440 L276,1437 L276,1463 L262,1467 L254,1458 Z"/>
<path class="f" d="M839.7,188.6 L845.3,182.6 L860.0,182.6 L862.0,184.6 L861.0,240.6 L858.0,242.6 L849.7,242.6 L847.7,239.6 L848.7,198.8 L841.7,198.8 L839.7,195.8 Z"/>
<text transform="translate(821.82,337.90) scale(0.7918,0.8043)" font-size="100" stroke="#000" stroke-width="4.01" stroke-linejoin="round">2</text>
<text transform="translate(1010.13,721.26) scale(0.7360,0.7380)" font-size="100" stroke="#000" stroke-width="4.34" stroke-linejoin="round">3</text>
<text transform="translate(1135.68,761.40) scale(0.7585,0.7841)" font-size="100" stroke="#000" stroke-width="4.15" stroke-linejoin="round">4</text>
<text transform="translate(1294.94,806.64) scale(0.7300,0.7648)" font-size="100" stroke="#000" stroke-width="4.28" stroke-linejoin="round">3</text>
<text transform="translate(1121.95,1170.58) scale(0.7820,0.8186)" font-size="100" stroke="#000" stroke-width="4.00" stroke-linejoin="round">5</text>
<path class="f" d="M1251.5,1257.8 L1257.8,1252.0 L1274.5,1252.0 L1276.5,1254.0 L1275.5,1307.6 L1272.5,1309.6 L1262.5,1309.6 L1260.5,1306.6 L1261.5,1267.6 L1253.5,1267.6 L1251.5,1264.7 Z"/>
<text transform="translate(1278.08,1307.23) scale(0.8809,0.7662)" font-size="100" stroke="#000" stroke-width="3.89" stroke-linejoin="round">0</text>
<text transform="translate(813.20,1610.64) scale(0.8500,0.7577)" font-size="100" stroke="#000" stroke-width="3.98" stroke-linejoin="round">6</text>
<text transform="translate(809.13,1798.18) scale(0.8681,0.7765)" font-size="100" stroke="#000" stroke-width="3.89" stroke-linejoin="round">7</text>
<text transform="translate(808.83,1984.26) scale(0.7560,0.7380)" font-size="100" stroke="#000" stroke-width="4.28" stroke-linejoin="round">8</text>
<text transform="translate(197.24,1480.23) scale(0.8396,0.7662)" font-size="100" stroke="#000" stroke-width="3.99" stroke-linejoin="round">9</text>
<path class="f" d="M1139.0,1452.8 L1144.9,1447.0 L1160.6,1447.0 L1162.6,1449.0 L1161.6,1502.5 L1158.6,1504.5 L1149.5,1504.5 L1147.5,1501.5 L1148.5,1462.5 L1141.0,1462.5 L1139.0,1459.7 Z"/>
<path class="f" d="M1167.0,1452.8 L1173.2,1447.0 L1190.0,1447.0 L1192.0,1449.0 L1191.0,1502.5 L1188.0,1504.5 L1178.0,1504.5 L1176.0,1501.5 L1177.0,1462.5 L1169.0,1462.5 L1167.0,1459.7 Z"/>
<path class="f" d="M244.4,611.9 L249.8,606.0 L263.8,606.0 L265.8,608.0 L264.8,663.0 L261.8,665.0 L254.1,665.0 L252.1,662.0 L253.1,621.9 L246.4,621.9 L244.4,619.0 Z"/>
<text transform="translate(270.29,663.40) scale(0.7714,0.7971)" font-size="100" stroke="#000" stroke-width="4.08" stroke-linejoin="round">2</text>
<path class="f" d="M301.4,435.7 L306.8,430.0 L320.8,430.0 L322.8,432.0 L321.8,485.0 L318.8,487.0 L311.1,487.0 L309.1,484.0 L310.1,445.4 L303.4,445.4 L301.4,442.5 Z"/>
<text transform="translate(331.94,484.64) scale(0.6820,0.7577)" font-size="100" stroke="#000" stroke-width="4.45" stroke-linejoin="round">3</text>
<path class="f" d="M237.0,788.7 L242.8,783.0 L258.0,783.0 L260.0,785.0 L259.0,838.0 L256.0,840.0 L247.3,840.0 L245.3,837.0 L246.3,798.4 L239.0,798.4 L237.0,795.5 Z"/>
<text transform="translate(264.95,838.40) scale(0.7264,0.7797)" font-size="100" stroke="#000" stroke-width="4.25" stroke-linejoin="round">4</text>
</svg>
</body></html>
